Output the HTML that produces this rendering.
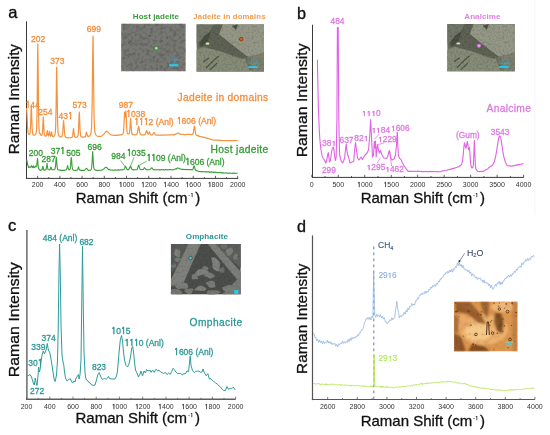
<!DOCTYPE html>
<html><head><meta charset="utf-8"><title>Raman spectra</title>
<style>
html,body{margin:0;padding:0;background:#fff;}
svg{display:block;}
svg text{font-family:"Liberation Sans", Arial, sans-serif;}
</style></head>
<body>
<svg width="550" height="435" viewBox="0 0 550 435">
<rect width="550" height="435" fill="#fff"/>
<line x1="534.8" y1="0" x2="534.8" y2="215" stroke="#f3f3f3" stroke-width="0.8"/>
<defs>
<filter id="tex1" x="0" y="0" width="100%" height="100%"><feTurbulence type="fractalNoise" baseFrequency="0.3" numOctaves="3" seed="3"/><feColorMatrix type="matrix" values="0 0 0 0 0  0 0 0 0 0  0 0 0 0 0  0 0 0 -2.6 1.45"/><feGaussianBlur stdDeviation="0.5"/></filter>
<filter id="tex2" x="0" y="0" width="100%" height="100%"><feTurbulence type="fractalNoise" baseFrequency="0.5" numOctaves="2" seed="11"/><feColorMatrix type="matrix" values="0 0 0 0 0  0 0 0 0 0  0 0 0 0 0  0 0 0 -2.2 1.25"/></filter>
<filter id="tex3" x="0" y="0" width="100%" height="100%"><feTurbulence type="fractalNoise" baseFrequency="0.18" numOctaves="3" seed="5"/><feColorMatrix type="matrix" values="0 0 0 0 0.4  0 0 0 0 0.22  0 0 0 0 0.08  0 0 0 -2.6 1.35"/></filter>
<filter id="bl"><feGaussianBlur stdDeviation="0.6"/></filter><filter id="bl2"><feGaussianBlur stdDeviation="1.3"/></filter>
<clipPath id="c1"><rect x="121.1" y="23.5" width="64.7" height="48"/></clipPath>
<clipPath id="c2"><rect x="196.4" y="24.3" width="67.7" height="47.5"/></clipPath>
<clipPath id="c4"><rect x="170.8" y="244" width="70" height="50.6"/></clipPath>
<clipPath id="c5"><rect x="453.9" y="301.5" width="63.7" height="50"/></clipPath>
</defs>
<!-- micrograph 1: host jadeite -->
<g clip-path="url(#c1)">
<rect x="121.1" y="23.5" width="64.7" height="48" fill="#777773"/>
<rect x="121.1" y="23.5" width="64.7" height="48" filter="url(#tex1)" opacity="0.2"/>
<g stroke="#5e5e5c" stroke-width="0.9" opacity="0.55" fill="none">
<path d="M125,36 L140,30 M130,45 L146,38 M150,60 L170,45 M162,57 L176,42 M140,64 L150,58 M172,30 L182,38 M126,58 L136,52 M165,33 L173,40"/>
</g>
<g fill="#4a4a48" opacity="0.7">
<circle cx="129" cy="43" r="0.9"/><circle cx="149.5" cy="36" r="1"/><circle cx="176" cy="56" r="0.8"/><circle cx="136" cy="62" r="0.8"/><circle cx="167" cy="38" r="0.7"/><circle cx="143" cy="50" r="0.7"/><circle cx="157" cy="69" r="0.9"/><circle cx="183" cy="27" r="0.8"/>
</g>
<circle cx="156.3" cy="48.2" r="2.0" fill="#98b894" stroke="#2e8c2e" stroke-width="0.8"/><path d="M155.3,48.2 H157.3 M156.3,47.2 V49.2" stroke="#e0f0e0" stroke-width="0.5"/>
<rect x="169.2" y="64.2" width="8.9" height="2.1" fill="#1ed0f0"/>
<text x="173.7" y="61.4" font-size="3.6" fill="#30b8e8" text-anchor="middle">20 μm</text>
</g>
<!-- micrograph 2: jadeite in domains -->
<g clip-path="url(#c2)">

<rect x="196.4" y="24.3" width="67.7" height="47.5" fill="#6d7261"/>
<g filter="url(#bl)">
<path d="M196.4,24.3 L213.6,24.3 L208,36 L200,41 L196.4,44 Z" fill="#72776a"/>
<path d="M196.4,50 L205,47 L215,50 L225,53 L236,57.5 L245,59 L250,71.8 L196.4,71.8 Z" fill="#878c78"/>
<path d="M219.5,24.3 L264.1,24.3 L264.1,53 L256,55 L247.7,56.7 L240,51 L233,45.5 L225,39 L219,34.4 Z" fill="#959886"/>
<path d="M213.6,24.3 L222.8,24.3 L219,34.4 L233,45.5 L247.7,56.7 L243,58.5 L232,55 L222,51.5 L212,48.5 L203,47 L198,46.5 L200,41 L208,36 Z" fill="#5e6354"/>
<path d="M199,44 L204,36 L211,31 L208,41 L202,46.5 Z M232,26 L238,24.3 L236,30 Z" fill="#4a4f43"/><path d="M206,68 L214,60 L219,56 M210,70 L217,63 M203,62 L209,58" stroke="#50554a" stroke-width="1.2" fill="none"/>
<path d="M250,57 L264.1,53 L264.1,71.8 L252,71.8 Z" fill="#7c8170"/>
</g>
<rect x="196.4" y="24.3" width="67.7" height="47.5" filter="url(#tex2)" opacity="0.18"/>
<ellipse cx="207.5" cy="43.7" rx="2" ry="1.1" fill="#e4e0a0"/>
<rect x="248.3" y="66.2" width="9.4" height="1.8" fill="#1ed0f0"/>
<text x="253" y="64.3" font-size="3.4" fill="#30b8e8" text-anchor="middle">10 μm</text>

<circle cx="241.2" cy="39.1" r="1.8" fill="#e85a18" stroke="#5a2a10" stroke-width="0.6"/>
</g>
<!-- micrograph 3: analcime (same field) -->
<g clip-path="url(#c2)" transform="translate(250.8,-0.2)">

<rect x="196.4" y="24.3" width="67.7" height="47.5" fill="#6d7261"/>
<g filter="url(#bl)">
<path d="M196.4,24.3 L213.6,24.3 L208,36 L200,41 L196.4,44 Z" fill="#72776a"/>
<path d="M196.4,50 L205,47 L215,50 L225,53 L236,57.5 L245,59 L250,71.8 L196.4,71.8 Z" fill="#878c78"/>
<path d="M219.5,24.3 L264.1,24.3 L264.1,53 L256,55 L247.7,56.7 L240,51 L233,45.5 L225,39 L219,34.4 Z" fill="#959886"/>
<path d="M213.6,24.3 L222.8,24.3 L219,34.4 L233,45.5 L247.7,56.7 L243,58.5 L232,55 L222,51.5 L212,48.5 L203,47 L198,46.5 L200,41 L208,36 Z" fill="#5e6354"/>
<path d="M199,44 L204,36 L211,31 L208,41 L202,46.5 Z M232,26 L238,24.3 L236,30 Z" fill="#4a4f43"/><path d="M206,68 L214,60 L219,56 M210,70 L217,63 M203,62 L209,58" stroke="#50554a" stroke-width="1.2" fill="none"/>
<path d="M250,57 L264.1,53 L264.1,71.8 L252,71.8 Z" fill="#7c8170"/>
</g>
<rect x="196.4" y="24.3" width="67.7" height="47.5" filter="url(#tex2)" opacity="0.18"/>
<ellipse cx="207.5" cy="43.7" rx="2" ry="1.1" fill="#e4e0a0"/>
<rect x="248.3" y="66.2" width="9.4" height="1.8" fill="#1ed0f0"/>
<text x="253" y="64.3" font-size="3.4" fill="#30b8e8" text-anchor="middle">10 μm</text>

<circle cx="228.2" cy="46.0" r="1.8" fill="#ff8cff" stroke="#c860c8" stroke-width="0.5"/>
</g>
<!-- micrograph 4: omphacite -->
<g clip-path="url(#c4)">
<rect x="170.8" y="244" width="70" height="50.6" fill="#4c4e4c"/>
<g filter="url(#bl)">
<path d="M216,244 L240.8,244 L240.8,268 L228,258 Z" fill="#5d605c"/>
<path d="M170.8,244 L188.5,244 L176,270 L170.8,272 Z" fill="#595b58"/>
<path d="M188.5,244 L200.7,244 L183,284 L170.8,286 L170.8,280 Z" fill="#80827d"/>
<path d="M207.6,244 L215.7,244 L240.8,272 L240.8,284 Z" fill="#7d7f7a"/>
<path d="M222,294.6 L240.8,276 L240.8,294.6 Z" fill="#787a75"/>
<path d="M179.9,253.4 C179.8,254.5 180.1,256.2 179.6,256.7 C179.1,257.2 177.6,256.6 176.9,256.4 C176.1,256.3 175.6,256.1 175.1,255.7 C174.6,255.2 174.0,254.4 173.9,253.7 C173.8,253.0 174.2,252.0 174.5,251.2 C174.8,250.4 175.3,248.9 175.9,248.7 C176.5,248.4 177.3,249.4 178.0,249.7 C178.8,250.0 180.3,249.6 180.6,250.3 C180.9,250.9 180.1,252.3 179.9,253.4Z" fill="#7e807b"/>
<path d="M180.8,259.8 C180.6,260.3 179.6,260.5 179.1,260.9 C178.6,261.3 178.5,262.0 178.0,262.1 C177.5,262.2 176.8,261.7 176.4,261.4 C175.9,261.1 175.4,260.9 175.2,260.5 C175.0,260.1 174.8,259.5 175.0,259.0 C175.1,258.6 175.6,258.1 176.1,257.9 C176.6,257.6 177.3,257.5 178.0,257.6 C178.6,257.6 179.6,257.6 180.1,258.0 C180.6,258.4 181.0,259.3 180.8,259.8Z" fill="#797b76"/>
<path d="M176.2,266.0 C176.1,266.4 175.9,266.7 175.6,267.1 C175.3,267.4 175.0,268.0 174.5,268.1 C173.9,268.3 173.0,268.3 172.5,268.1 C171.9,267.9 171.4,267.3 171.2,266.8 C170.9,266.3 170.9,265.5 171.2,265.2 C171.5,264.8 172.5,264.9 173.0,264.6 C173.6,264.4 174.0,263.6 174.5,263.6 C175.0,263.6 175.8,264.2 176.1,264.6 C176.3,265.0 176.3,265.6 176.2,266.0Z" fill="#70726d"/>
<path d="M233.1,250.8 C233.2,251.8 232.6,253.0 232.2,253.6 C231.7,254.3 231.1,254.5 230.5,254.9 C229.8,255.3 229.0,256.1 228.3,255.9 C227.6,255.7 226.9,254.5 226.5,253.6 C226.0,252.7 225.6,251.3 225.7,250.5 C225.9,249.7 226.9,249.1 227.5,248.7 C228.1,248.3 228.6,248.2 229.3,248.1 C229.9,248.0 231.0,247.6 231.6,248.0 C232.2,248.5 233.0,249.9 233.1,250.8Z" fill="#7b7d78"/>
<path d="M237.5,257.0 C237.5,257.8 238.2,259.1 237.9,259.5 C237.7,259.9 236.5,259.5 235.9,259.6 C235.2,259.6 234.6,260.2 234.1,259.9 C233.7,259.7 233.3,258.7 233.2,258.1 C233.0,257.4 233.1,256.6 233.3,256.0 C233.5,255.4 234.0,255.1 234.4,254.7 C234.9,254.3 235.4,253.4 236.0,253.4 C236.6,253.4 237.7,253.9 237.9,254.5 C238.1,255.1 237.5,256.2 237.5,257.0Z" fill="#757772"/>
<path d="M227.3,246.5 C227.3,247.0 226.9,247.6 226.4,248.0 C226.0,248.4 225.2,248.8 224.6,248.9 C223.9,249.0 223.1,248.7 222.5,248.4 C221.9,248.2 221.4,247.7 221.1,247.3 C220.8,246.8 220.3,246.0 220.6,245.6 C220.9,245.2 222.0,245.0 222.7,244.8 C223.3,244.6 223.8,244.6 224.4,244.6 C225.1,244.6 226.3,244.5 226.8,244.8 C227.3,245.1 227.4,246.0 227.3,246.5Z" fill="#6e706b"/>
<path d="M219.8,262.5 C220.3,263.8 219.9,265.7 219.7,267.1 C219.6,268.5 219.6,270.4 219.0,271.0 C218.4,271.6 217.1,271.4 216.1,270.9 C215.0,270.4 213.4,269.4 212.8,268.1 C212.2,266.8 212.8,264.9 212.6,263.2 C212.3,261.5 211.0,259.1 211.3,258.1 C211.5,257.2 213.1,257.3 214.0,257.5 C214.9,257.7 215.8,258.2 216.8,259.1 C217.7,259.9 219.3,261.2 219.8,262.5Z" fill="#80827d"/>
<path d="M224.7,270.0 C224.7,270.7 224.4,271.6 224.0,272.0 C223.6,272.5 222.9,272.8 222.4,272.9 C221.9,272.9 221.4,272.6 220.9,272.3 C220.3,272.1 219.4,271.8 219.2,271.2 C218.9,270.7 219.0,269.4 219.3,268.8 C219.6,268.3 220.5,268.2 221.0,267.9 C221.5,267.6 221.9,267.2 222.4,267.2 C222.9,267.2 223.8,267.3 224.2,267.8 C224.6,268.3 224.8,269.3 224.7,270.0Z" fill="#6c6e69"/>
<path d="M208.3,271.0 C208.8,271.7 208.2,273.2 207.2,273.9 C206.2,274.5 203.9,274.4 202.3,274.8 C200.8,275.1 199.1,276.1 197.8,276.0 C196.6,275.9 195.1,274.9 194.8,274.2 C194.6,273.4 195.8,272.4 196.3,271.7 C196.9,271.0 197.2,270.3 198.0,269.9 C198.9,269.4 200.4,269.1 201.5,269.1 C202.6,269.1 203.3,269.5 204.5,269.8 C205.6,270.1 207.9,270.3 208.3,271.0Z" fill="#80827d"/>
<path d="M214.7,276.4 C214.5,277.0 213.3,277.4 212.5,277.7 C211.7,278.1 210.7,278.8 209.9,278.7 C209.0,278.6 208.3,277.6 207.3,277.1 C206.3,276.6 204.4,276.3 204.0,275.7 C203.6,275.1 204.3,274.2 204.8,273.6 C205.4,273.0 206.3,272.3 207.3,272.2 C208.3,272.1 209.9,272.3 210.9,272.7 C211.9,273.0 212.7,273.7 213.4,274.3 C214.0,274.9 214.8,275.8 214.7,276.4Z" fill="#7b7d78"/>
<path d="M197.5,277.0 C197.7,277.6 198.3,278.7 197.9,279.0 C197.4,279.4 195.9,279.1 195.0,279.1 C194.1,279.1 193.2,279.5 192.7,279.3 C192.1,279.0 191.9,278.2 191.8,277.7 C191.6,277.2 191.7,276.8 191.8,276.3 C191.9,275.8 191.9,274.9 192.5,274.5 C193.1,274.1 194.5,273.8 195.2,273.9 C196.0,274.1 196.8,274.9 197.2,275.4 C197.6,275.9 197.4,276.4 197.5,277.0Z" fill="#797b76"/>
<path d="M208.4,268.0 C208.6,268.5 208.2,269.4 207.7,269.7 C207.2,270.1 206.3,270.2 205.5,270.3 C204.8,270.4 203.8,270.5 203.3,270.3 C202.8,270.0 202.6,269.2 202.5,268.7 C202.4,268.2 202.5,267.7 202.7,267.4 C202.9,267.0 203.3,266.5 203.7,266.3 C204.2,266.1 204.9,266.2 205.4,266.3 C205.9,266.4 206.3,266.6 206.8,266.8 C207.3,267.1 208.3,267.5 208.4,268.0Z" fill="#777974"/>
<path d="M188.1,286.3 C188.1,287.2 187.7,288.6 186.7,288.9 C185.7,289.3 183.6,288.5 182.1,288.5 C180.7,288.5 179.2,289.2 178.1,288.9 C176.9,288.5 175.7,287.4 175.3,286.6 C174.9,285.7 175.2,284.5 175.8,283.8 C176.4,283.1 177.8,282.6 179.0,282.3 C180.2,282.1 181.6,282.1 182.9,282.3 C184.2,282.5 185.8,282.9 186.7,283.6 C187.5,284.3 188.1,285.4 188.1,286.3Z" fill="#7d7f7a"/>
<path d="M205.7,288.0 C206.1,288.6 206.6,289.8 205.9,290.3 C205.2,290.9 203.0,291.0 201.8,291.1 C200.6,291.1 199.9,290.9 198.7,290.8 C197.4,290.7 194.6,290.8 194.2,290.3 C193.8,289.9 195.7,288.6 196.3,287.9 C196.9,287.2 197.2,286.5 198.0,286.2 C198.9,285.9 200.3,285.8 201.3,285.8 C202.2,285.9 203.2,286.2 203.9,286.5 C204.6,286.9 205.4,287.3 205.7,288.0Z" fill="#7d7f7a"/>
<path d="M214.9,284.3 C215.0,285.0 215.9,286.2 215.5,286.7 C215.0,287.3 213.0,287.6 211.9,287.7 C210.8,287.7 209.4,287.3 208.7,286.9 C208.0,286.4 208.1,285.7 207.6,285.1 C207.1,284.5 205.6,283.6 205.7,283.1 C205.9,282.5 207.6,282.0 208.6,281.6 C209.7,281.2 211.0,280.6 212.0,280.7 C213.0,280.8 214.2,281.7 214.7,282.3 C215.2,282.9 214.8,283.6 214.9,284.3Z" fill="#7a7c77"/>
<path d="M192.9,291.0 C192.7,291.6 192.5,292.0 192.0,292.5 C191.5,293.1 190.9,294.3 190.0,294.4 C189.1,294.5 187.7,293.7 186.8,293.2 C186.0,292.8 185.5,292.4 185.1,291.8 C184.7,291.3 184.2,290.5 184.5,290.0 C184.8,289.5 185.9,289.0 186.8,288.7 C187.7,288.4 188.7,288.4 189.8,288.4 C190.9,288.4 192.9,288.4 193.4,288.8 C193.9,289.2 193.2,290.4 192.9,291.0Z" fill="#767873"/>
<path d="M181.9,292.0 C182.1,292.7 182.6,294.0 181.7,294.4 C180.9,294.8 178.2,294.4 176.8,294.4 C175.4,294.3 174.6,294.5 173.3,294.3 C172.1,294.1 169.7,293.8 169.3,293.2 C168.8,292.7 170.0,291.7 170.5,291.0 C171.1,290.3 171.5,289.4 172.6,289.1 C173.7,288.7 175.7,289.0 177.0,289.1 C178.3,289.3 179.6,289.7 180.4,290.2 C181.2,290.6 181.7,291.3 181.9,292.0Z" fill="#747671"/>
<path d="M220.4,292.5 C220.2,293.1 218.0,293.7 216.9,294.1 C215.7,294.6 214.7,295.2 213.2,295.3 C211.8,295.5 209.4,295.4 208.4,295.0 C207.3,294.7 207.2,293.8 206.9,293.2 C206.6,292.7 206.4,292.2 206.7,291.7 C207.1,291.3 207.9,290.6 209.0,290.4 C210.0,290.2 211.4,290.4 212.9,290.4 C214.4,290.5 216.6,290.2 217.9,290.5 C219.1,290.9 220.5,291.9 220.4,292.5Z" fill="#767873"/>
<path d="M233.4,289.0 C233.3,289.9 232.4,290.7 231.7,291.4 C230.9,292.0 229.8,292.7 228.9,292.8 C227.9,292.8 226.9,292.1 226.0,291.7 C225.1,291.3 224.0,291.0 223.4,290.3 C222.7,289.6 221.8,288.1 222.3,287.4 C222.7,286.7 224.9,286.8 226.0,286.3 C227.1,285.9 227.9,284.8 229.0,284.8 C230.0,284.7 231.6,285.5 232.4,286.2 C233.1,286.9 233.5,288.1 233.4,289.0Z" fill="#7a7c77"/>
</g>
<rect x="170.8" y="244" width="70" height="50.6" filter="url(#tex2)" opacity="0.15"/>
<circle cx="190.5" cy="258.1" r="1.8" fill="#60c0c4" stroke="#1c4848" stroke-width="0.7"/>
<rect x="234.2" y="290" width="4.1" height="3.8" fill="#1ed0e8"/>
</g>
<!-- micrograph 5: fluid inclusion (d) -->
<g clip-path="url(#c5)">
<rect x="453.9" y="301.5" width="63.7" height="50" fill="#dc9650"/>
<g filter="url(#bl2)">
<ellipse cx="484" cy="330" rx="24" ry="15" fill="#eeb06c"/>
<ellipse cx="478" cy="332" rx="13" ry="9" fill="#f6c888"/>
<ellipse cx="503" cy="307" rx="12" ry="5" fill="#f0b878"/>
<ellipse cx="462" cy="322" rx="6" ry="8" fill="#e8a868"/>
<path d="M455,302 L470,302 L482,316 L486,324 L478,323 L468,314 L456,312 Z" fill="#8a5024" opacity="0.85"/>
<path d="M480,301.5 L489,301.5 L488,318 L484,314 Z" fill="#8a5226" opacity="0.8"/>
<path d="M495,313 L501,313 L504,324 L502,334 L497,331 L494,322 Z" fill="#6a3c18" opacity="0.85"/>
<path d="M453.9,333 L461,337 L466,351.5 L453.9,351.5 Z" fill="#7a4620" opacity="0.85"/>
<path d="M468,351.5 L472,344 L484,346 L490,351.5 Z" fill="#6e3e1a" opacity="0.85"/>
<path d="M453.9,314 L459,318 L458,332 L453.9,333 Z" fill="#a06434" opacity="0.85"/>
<path d="M512,301.5 L517.5,301.5 L517.5,351.5 L513,351.5 Z" fill="#c07a40" opacity="0.8"/>
</g>
<rect x="453.9" y="301.5" width="63.7" height="50" filter="url(#tex3)" opacity="0.35"/>
<circle cx="503.0" cy="331.6" r="0.74" fill="#4a2810" opacity="0.49"/>
<circle cx="493.8" cy="349.6" r="0.58" fill="#4a2810" opacity="0.50"/>
<circle cx="513.9" cy="334.9" r="0.46" fill="#4a2810" opacity="0.75"/>
<circle cx="516.1" cy="312.6" r="0.82" fill="#4a2810" opacity="0.76"/>
<circle cx="468.6" cy="311.4" r="0.87" fill="#4a2810" opacity="0.60"/>
<circle cx="482.1" cy="334.0" r="0.59" fill="#4a2810" opacity="0.45"/>
<circle cx="471.0" cy="325.2" r="0.77" fill="#4a2810" opacity="0.72"/>
<circle cx="481.5" cy="311.7" r="0.78" fill="#4a2810" opacity="0.53"/>
<circle cx="499.5" cy="326.4" r="0.65" fill="#4a2810" opacity="0.62"/>
<circle cx="467.5" cy="310.6" r="0.70" fill="#4a2810" opacity="0.57"/>
<circle cx="455.9" cy="311.7" r="0.86" fill="#4a2810" opacity="0.77"/>
<circle cx="490.7" cy="321.8" r="0.80" fill="#4a2810" opacity="0.57"/>
<circle cx="493.9" cy="303.1" r="0.71" fill="#4a2810" opacity="0.89"/>
<circle cx="498.6" cy="306.2" r="0.68" fill="#4a2810" opacity="0.59"/>
<circle cx="511.6" cy="303.4" r="0.36" fill="#4a2810" opacity="0.49"/>
<circle cx="475.9" cy="344.9" r="0.66" fill="#4a2810" opacity="0.75"/>
<circle cx="457.7" cy="310.9" r="0.56" fill="#4a2810" opacity="0.73"/>
<circle cx="501.2" cy="330.1" r="0.50" fill="#4a2810" opacity="0.53"/>
<circle cx="480.9" cy="314.8" r="0.77" fill="#4a2810" opacity="0.85"/>
<circle cx="504.5" cy="308.3" r="0.78" fill="#4a2810" opacity="0.46"/>
<circle cx="463.3" cy="336.1" r="0.53" fill="#4a2810" opacity="0.82"/>
<circle cx="497.3" cy="333.2" r="0.68" fill="#4a2810" opacity="0.86"/>
<circle cx="506.2" cy="303.9" r="0.89" fill="#4a2810" opacity="0.64"/>
<circle cx="473.2" cy="344.2" r="0.86" fill="#4a2810" opacity="0.80"/>
<circle cx="499.3" cy="303.0" r="0.50" fill="#4a2810" opacity="0.82"/>
<circle cx="516.4" cy="316.0" r="0.77" fill="#4a2810" opacity="0.50"/>
<circle cx="501.0" cy="319.6" r="0.39" fill="#4a2810" opacity="0.53"/>
<circle cx="489.9" cy="325.2" r="0.73" fill="#4a2810" opacity="0.61"/>
<circle cx="491.7" cy="320.5" r="0.77" fill="#4a2810" opacity="0.45"/>
<circle cx="491.2" cy="330.7" r="0.38" fill="#4a2810" opacity="0.79"/>
<circle cx="494.0" cy="348.1" r="0.45" fill="#4a2810" opacity="0.64"/>
<circle cx="508.2" cy="347.8" r="0.73" fill="#4a2810" opacity="0.61"/>
<circle cx="500.7" cy="324.3" r="0.64" fill="#4a2810" opacity="0.75"/>
<circle cx="512.2" cy="302.9" r="0.73" fill="#4a2810" opacity="0.86"/>
<circle cx="478.0" cy="313.9" r="0.66" fill="#4a2810" opacity="0.46"/>
<circle cx="504.5" cy="325.9" r="0.71" fill="#4a2810" opacity="0.80"/>
<circle cx="456.2" cy="311.6" r="0.58" fill="#4a2810" opacity="0.72"/>
<circle cx="477.5" cy="315.9" r="0.36" fill="#4a2810" opacity="0.64"/>
<circle cx="512.8" cy="303.9" r="0.68" fill="#4a2810" opacity="0.54"/>
<circle cx="514.8" cy="341.2" r="0.47" fill="#4a2810" opacity="0.89"/>
<circle cx="474.1" cy="335.6" r="0.49" fill="#4a2810" opacity="0.58"/>
<circle cx="458.9" cy="316.6" r="0.58" fill="#4a2810" opacity="0.46"/>
<circle cx="455.7" cy="303.0" r="0.83" fill="#4a2810" opacity="0.64"/>
<circle cx="511.4" cy="325.5" r="0.66" fill="#4a2810" opacity="0.62"/>
<circle cx="503.0" cy="319.0" r="0.79" fill="#4a2810" opacity="0.63"/>
<g fill="none" stroke="#4a2a12" stroke-width="0.8">
<circle cx="476" cy="334.4" r="1.3"/><circle cx="492.5" cy="333.1" r="1.3"/><circle cx="507.6" cy="311.6" r="1.4"/><circle cx="510" cy="339.5" r="1.4"/><circle cx="499.4" cy="309.1" r="1.2"/>
</g>
<path d="M486.5,335 L487.2,322 L488.6,322 L489.3,335" fill="none" stroke="#3a200c" stroke-width="0.9"/>
<rect x="506.4" y="344.3" width="5.5" height="1.5" fill="#40d0e0"/>
<rect x="505.2" y="341.6" width="8" height="1.2" fill="#80d0c8" opacity="0.8"/>
</g>
<!-- captions -->
<text x="132.8" y="18.9" font-size="8.0" font-weight="bold" fill="#3a9a3a" textLength="46.2" lengthAdjust="spacing">Host jadeite</text>
<text x="193.3" y="19.2" font-size="7.7" font-weight="bold" fill="#f29a4c" textLength="72.2" lengthAdjust="spacing">Jadeite in domains</text>
<text x="464.3" y="19.3" font-size="8.0" font-weight="bold" fill="#e27ee6" textLength="36.1" lengthAdjust="spacing">Analcime</text>
<text x="185.8" y="239.2" font-size="8.1" font-weight="bold" fill="#2a9696" textLength="42.2" lengthAdjust="spacing">Omphacite</text>

<text x="8.2" y="17.6" font-size="16.5" fill="#111" stroke="#111" stroke-width="0.35">a</text>
<line x1="26.5" y1="21.3" x2="26.5" y2="178.9" stroke="#3a3a3a" stroke-width="1.0"/>
<line x1="26.0" y1="178.4" x2="238.2" y2="178.4" stroke="#3a3a3a" stroke-width="1.0"/>
<line x1="37.62" y1="178.4" x2="37.62" y2="175.8" stroke="#3a3a3a" stroke-width="0.8"/>
<line x1="59.85" y1="178.4" x2="59.85" y2="175.8" stroke="#3a3a3a" stroke-width="0.8"/>
<line x1="82.08" y1="178.4" x2="82.08" y2="175.8" stroke="#3a3a3a" stroke-width="0.8"/>
<line x1="104.31" y1="178.4" x2="104.31" y2="175.8" stroke="#3a3a3a" stroke-width="0.8"/>
<line x1="126.54" y1="178.4" x2="126.54" y2="175.8" stroke="#3a3a3a" stroke-width="0.8"/>
<line x1="148.78" y1="178.4" x2="148.78" y2="175.8" stroke="#3a3a3a" stroke-width="0.8"/>
<line x1="171.01" y1="178.4" x2="171.01" y2="175.8" stroke="#3a3a3a" stroke-width="0.8"/>
<line x1="193.24" y1="178.4" x2="193.24" y2="175.8" stroke="#3a3a3a" stroke-width="0.8"/>
<line x1="215.47" y1="178.4" x2="215.47" y2="175.8" stroke="#3a3a3a" stroke-width="0.8"/>
<line x1="237.70" y1="178.4" x2="237.70" y2="175.8" stroke="#3a3a3a" stroke-width="0.8"/>
<line x1="48.73" y1="178.4" x2="48.73" y2="177.0" stroke="#3a3a3a" stroke-width="0.8"/>
<line x1="70.96" y1="178.4" x2="70.96" y2="177.0" stroke="#3a3a3a" stroke-width="0.8"/>
<line x1="93.20" y1="178.4" x2="93.20" y2="177.0" stroke="#3a3a3a" stroke-width="0.8"/>
<line x1="115.43" y1="178.4" x2="115.43" y2="177.0" stroke="#3a3a3a" stroke-width="0.8"/>
<line x1="137.66" y1="178.4" x2="137.66" y2="177.0" stroke="#3a3a3a" stroke-width="0.8"/>
<line x1="159.89" y1="178.4" x2="159.89" y2="177.0" stroke="#3a3a3a" stroke-width="0.8"/>
<line x1="182.12" y1="178.4" x2="182.12" y2="177.0" stroke="#3a3a3a" stroke-width="0.8"/>
<line x1="204.36" y1="178.4" x2="204.36" y2="177.0" stroke="#3a3a3a" stroke-width="0.8"/>
<line x1="226.59" y1="178.4" x2="226.59" y2="177.0" stroke="#3a3a3a" stroke-width="0.8"/>
<text x="37.62" y="187.2" font-size="7" fill="#333" text-anchor="middle">200</text>
<text x="59.85" y="187.2" font-size="7" fill="#333" text-anchor="middle">400</text>
<text x="82.08" y="187.2" font-size="7" fill="#333" text-anchor="middle">600</text>
<text x="104.31" y="187.2" font-size="7" fill="#333" text-anchor="middle">800</text>
<text x="126.54" y="187.2" font-size="7" fill="#333" text-anchor="middle"><tspan font-family="NanumGothic, Liberation Sans, sans-serif" font-size="6.51" stroke="#333" stroke-width="0.3">1</tspan>000</text>
<text x="148.78" y="187.2" font-size="7" fill="#333" text-anchor="middle"><tspan font-family="NanumGothic, Liberation Sans, sans-serif" font-size="6.51" stroke="#333" stroke-width="0.3">1</tspan>200</text>
<text x="171.01" y="187.2" font-size="7" fill="#333" text-anchor="middle"><tspan font-family="NanumGothic, Liberation Sans, sans-serif" font-size="6.51" stroke="#333" stroke-width="0.3">1</tspan>400</text>
<text x="193.24" y="187.2" font-size="7" fill="#333" text-anchor="middle"><tspan font-family="NanumGothic, Liberation Sans, sans-serif" font-size="6.51" stroke="#333" stroke-width="0.3">1</tspan>600</text>
<text x="215.47" y="187.2" font-size="7" fill="#333" text-anchor="middle"><tspan font-family="NanumGothic, Liberation Sans, sans-serif" font-size="6.51" stroke="#333" stroke-width="0.3">1</tspan>800</text>
<text x="237.70" y="187.2" font-size="7" fill="#333" text-anchor="middle">2000</text>
<text transform="translate(18.5,154.2) rotate(-90)" x="0" y="0" font-size="14.6" fill="#111" stroke="#111" stroke-width="0.3" textLength="110.2" lengthAdjust="spacingAndGlyphs">Raman Intensity</text>
<text x="75.8" y="203.2" font-size="15.0" fill="#111" stroke="#111" stroke-width="0.3" textLength="111.6" lengthAdjust="spacingAndGlyphs">Raman Shift (cm</text>
<text x="188.2" y="196.7" font-size="6" fill="#222">-<tspan font-family="NanumGothic, Liberation Sans, sans-serif" font-size="5.58" stroke="#222" stroke-width="0.25">1</tspan></text>
<text x="195.2" y="203.2" font-size="15.0" fill="#111" stroke="#111" stroke-width="0.3">)</text>
<path d="M26.60,108.00 L26.60,108.16 L27.10,116.57 L27.60,127.95 L28.10,132.78 L28.60,134.15 L29.10,134.47 L29.60,134.14 L30.10,132.83 L30.60,125.32 L31.10,109.27 L31.30,106.00 L31.60,112.21 L32.10,127.87 L32.60,133.61 L33.10,134.77 L33.60,135.10 L34.10,135.25 L34.60,135.25 L35.10,134.92 L35.60,134.44 L36.10,133.12 L36.60,129.42 L37.10,109.52 L37.60,55.13 L37.80,44.00 L38.10,66.24 L38.60,116.25 L39.10,130.74 L39.60,133.29 L40.10,133.38 L40.20,133.50 L40.60,134.40 L41.10,135.39 L41.60,135.38 L42.10,134.83 L42.60,130.81 L43.10,119.37 L43.30,117.00 L43.60,121.77 L44.10,132.48 L44.60,135.30 L45.10,136.22 L45.60,136.25 L46.10,136.09 L46.60,134.98 L47.10,131.40 L47.30,130.60 L47.60,132.07 L48.10,135.32 L48.60,135.96 L49.10,133.71 L49.50,131.40 L49.60,131.74 L50.10,135.16 L50.60,136.23 L51.10,134.83 L51.60,131.98 L51.60,132.00 L52.10,134.72 L52.60,136.47 L53.10,136.63 L53.60,136.44 L54.10,136.08 L54.60,135.53 L55.10,133.93 L55.60,128.89 L56.10,106.13 L56.60,68.76 L56.70,67.00 L57.10,89.94 L57.60,122.88 L58.10,133.05 L58.60,135.04 L59.10,136.00 L59.60,136.59 L60.10,136.88 L60.60,136.73 L61.10,136.87 L61.60,136.78 L62.10,136.08 L62.60,133.64 L63.10,126.44 L63.60,120.50 L63.60,120.53 L64.10,126.54 L64.60,133.80 L65.10,136.40 L65.60,137.11 L66.10,137.29 L66.60,137.73 L67.10,137.76 L67.60,137.83 L68.10,137.91 L68.60,137.86 L69.10,137.77 L69.60,137.74 L70.10,137.72 L70.60,137.84 L71.10,137.54 L71.60,137.48 L72.10,137.19 L72.60,135.90 L73.10,131.58 L73.50,128.50 L73.60,128.64 L74.10,133.45 L74.60,136.53 L75.10,137.27 L75.60,137.35 L76.10,137.30 L76.60,137.16 L77.10,137.00 L77.60,136.53 L78.10,135.20 L78.60,128.59 L79.10,114.60 L79.30,112.00 L79.60,117.25 L80.10,130.68 L80.60,135.54 L81.10,136.75 L81.60,137.00 L82.10,137.16 L82.60,136.96 L83.10,137.12 L83.60,137.09 L84.10,137.14 L84.60,136.82 L85.10,136.86 L85.60,135.95 L86.10,133.38 L86.50,132.00 L86.60,132.02 L87.10,134.34 L87.60,136.02 L88.10,136.41 L88.60,136.45 L89.10,136.06 L89.60,135.78 L90.10,135.16 L90.60,134.35 L91.10,132.46 L91.60,127.10 L92.10,106.84 L92.60,61.37 L93.00,36.00 L93.10,37.89 L93.60,81.91 L94.10,117.84 L94.60,129.90 L95.10,133.13 L95.60,134.53 L96.10,135.17 L96.60,135.61 L97.10,136.01 L97.60,136.37 L98.10,136.28 L98.60,136.34 L99.10,136.34 L99.60,136.35 L100.10,136.48 L100.60,136.41 L101.10,136.21 L101.60,136.05 L102.10,135.78 L102.60,135.46 L103.10,134.92 L103.60,134.50 L104.10,133.96 L104.60,133.25 L105.10,132.61 L105.60,131.99 L106.10,131.58 L106.60,131.40 L106.60,131.47 L107.10,131.45 L107.60,131.79 L108.10,132.34 L108.60,132.86 L109.10,133.46 L109.60,133.62 L110.10,134.25 L110.60,134.48 L111.10,134.78 L111.60,135.02 L112.10,135.16 L112.60,135.24 L113.10,135.21 L113.60,135.36 L114.10,135.22 L114.60,135.23 L115.10,135.30 L115.60,135.18 L116.10,135.38 L116.60,135.27 L117.10,135.34 L117.60,135.14 L118.10,135.08 L118.60,135.08 L119.10,135.09 L119.60,134.93 L120.10,134.95 L120.60,134.87 L121.10,134.93 L121.60,134.63 L122.10,134.59 L122.60,134.16 L123.10,133.50 L123.60,131.13 L124.10,122.30 L124.60,112.00 L124.60,112.01 L125.10,117.25 L125.60,113.91 L125.90,111.00 L126.10,113.79 L126.60,126.66 L127.10,132.39 L127.60,133.68 L128.10,134.00 L128.60,133.96 L129.10,133.88 L129.60,132.05 L130.10,125.70 L130.60,118.30 L130.60,118.30 L131.10,125.81 L131.60,132.34 L132.10,134.02 L132.60,134.53 L133.10,134.64 L133.60,134.77 L134.10,134.84 L134.60,134.84 L135.10,134.83 L135.60,134.73 L136.10,134.69 L136.60,134.31 L137.10,133.79 L137.60,131.83 L138.10,128.65 L138.60,126.30 L138.60,126.40 L139.10,128.41 L139.60,131.95 L140.10,133.81 L140.60,134.43 L141.10,134.79 L141.60,134.81 L142.10,134.76 L142.60,134.91 L143.10,134.93 L143.60,134.94 L144.10,134.79 L144.60,134.83 L145.10,134.49 L145.60,133.38 L146.10,131.71 L146.60,130.59 L146.60,130.60 L147.10,131.68 L147.60,133.53 L148.10,134.25 L148.60,133.99 L149.10,132.74 L149.50,132.00 L149.60,132.07 L150.10,133.71 L150.60,134.54 L151.10,134.85 L151.60,134.93 L152.10,134.82 L152.60,134.71 L153.10,133.75 L153.60,132.83 L153.90,132.50 L154.10,132.65 L154.60,133.67 L155.10,134.38 L155.60,135.01 L156.10,134.99 L156.60,135.05 L157.10,135.00 L157.60,135.04 L158.10,135.15 L158.60,135.20 L159.10,135.18 L159.60,135.23 L160.10,135.19 L160.60,135.12 L161.10,135.18 L161.60,135.15 L162.10,135.09 L162.60,135.14 L163.10,135.18 L163.60,135.08 L164.10,135.02 L164.60,135.10 L165.10,135.18 L165.60,135.00 L166.10,135.00 L166.60,134.98 L167.10,135.08 L167.60,134.82 L168.10,134.98 L168.60,135.04 L169.10,134.86 L169.60,135.03 L170.10,134.94 L170.60,134.83 L171.10,134.88 L171.60,134.72 L172.10,134.77 L172.60,134.94 L173.10,134.69 L173.60,134.86 L174.10,134.63 L174.60,134.62 L175.10,134.40 L175.60,134.03 L176.10,133.93 L176.60,133.72 L177.10,133.36 L177.60,133.15 L178.00,133.20 L178.10,133.23 L178.60,133.24 L179.10,133.36 L179.60,133.69 L180.10,134.04 L180.60,134.13 L181.10,134.39 L181.60,134.54 L182.10,134.48 L182.60,134.42 L183.10,134.42 L183.60,134.53 L184.10,134.61 L184.60,134.55 L185.10,134.57 L185.60,134.48 L186.10,134.53 L186.60,134.46 L187.10,134.46 L187.60,134.37 L188.10,134.33 L188.60,134.40 L189.10,134.33 L189.60,134.32 L190.10,134.43 L190.60,134.43 L191.10,134.71 L191.60,134.57 L192.10,134.42 L192.60,134.38 L193.10,133.63 L193.60,131.18 L194.10,127.29 L194.40,126.00 L194.60,126.56 L195.10,130.48 L195.60,133.76 L196.10,134.77 L196.60,135.36 L197.10,135.43 L197.60,135.57 L198.10,135.95 L198.60,135.89 L199.10,136.13 L199.60,136.37 L200.10,136.39 L200.60,136.50 L201.10,136.64 L201.60,136.82 L202.10,136.81 L202.60,137.05 L203.10,137.16 L203.60,137.42 L204.10,137.33 L204.60,137.40 L205.10,137.66 L205.60,137.72 L206.10,137.93 L206.60,138.07 L207.10,138.30 L207.60,138.31 L208.10,138.50 L208.60,138.46 L209.10,138.74 L209.60,139.08 L210.10,139.06 L210.60,139.21 L211.10,139.32 L211.60,139.61 L212.10,139.73 L212.60,139.77 L213.10,140.04 L213.60,140.04 L214.10,140.10 L214.60,140.02 L215.10,140.23 L215.60,140.15 L216.10,140.13 L216.60,140.13 L217.10,140.17 L217.60,140.29 L218.10,140.22 L218.60,140.36 L219.10,140.34 L219.60,140.43 L220.10,140.41 L220.60,140.36 L221.10,140.24 L221.60,140.44 L222.10,140.51 L222.60,140.48 L223.10,140.54 L223.60,140.48 L224.10,140.52 L224.60,140.50 L225.10,140.70 L225.60,140.60 L226.10,140.54 L226.60,140.47 L227.10,140.56 L227.60,140.69 L228.10,140.60 L228.60,140.51 L229.10,140.67 L229.60,140.67 L230.10,140.63 L230.60,140.61 L231.10,140.64 L231.60,140.58 L232.10,140.60 L232.60,140.47 L233.10,140.65 L233.60,140.54 L234.10,140.68 L234.60,140.35 L235.10,140.57 L235.60,140.59 L236.10,140.48 L236.60,140.54 L237.10,140.56 L237.60,140.54" fill="none" stroke="#F5923E" stroke-width="1.2" stroke-linejoin="round" />
<path d="M26.60,159.50 L26.60,159.60 L27.10,161.47 L27.60,164.55 L28.10,165.98 L28.60,167.51 L29.10,166.74 L29.60,166.92 L30.10,167.77 L30.60,166.91 L31.00,166.52 L31.10,165.74 L31.60,165.78 L32.10,167.41 L32.60,166.45 L33.10,167.66 L33.50,166.99 L33.60,165.91 L34.10,167.42 L34.60,167.18 L35.10,167.12 L35.60,165.95 L36.10,166.71 L36.60,166.12 L37.10,162.08 L37.50,158.20 L37.60,158.74 L38.10,165.52 L38.60,168.70 L39.10,169.04 L39.60,169.88 L40.10,170.14 L40.60,170.39 L41.10,169.92 L41.60,170.09 L42.10,169.67 L42.60,167.16 L42.90,166.20 L43.10,166.93 L43.60,169.34 L44.10,170.14 L44.60,170.21 L45.10,169.89 L45.60,169.80 L46.10,169.32 L46.60,166.39 L47.00,163.30 L47.10,163.70 L47.60,167.83 L48.10,169.54 L48.60,169.75 L49.10,169.83 L49.60,169.83 L50.10,169.48 L50.60,168.10 L50.90,166.90 L51.10,167.27 L51.60,169.21 L52.10,169.83 L52.60,169.68 L53.10,169.74 L53.60,169.74 L54.10,169.74 L54.60,169.20 L55.10,168.90 L55.60,165.44 L56.10,158.50 L56.30,157.20 L56.60,159.99 L57.10,166.72 L57.60,169.28 L58.10,169.71 L58.60,169.90 L59.10,170.08 L59.60,169.98 L60.10,170.38 L60.60,170.14 L61.10,170.12 L61.60,170.66 L62.10,170.37 L62.60,170.21 L63.10,170.66 L63.60,170.33 L64.10,170.53 L64.60,170.22 L65.10,170.27 L65.60,170.00 L66.10,169.84 L66.60,169.46 L67.10,167.66 L67.60,165.50 L67.60,165.62 L68.10,167.97 L68.60,169.30 L69.10,170.00 L69.60,169.66 L70.10,169.07 L70.60,165.64 L71.10,158.57 L71.30,157.50 L71.60,160.05 L72.10,166.74 L72.60,169.40 L73.10,169.83 L73.60,170.31 L74.10,170.24 L74.60,170.29 L75.10,170.47 L75.60,170.39 L76.10,170.30 L76.60,170.26 L77.10,170.15 L77.60,169.84 L78.10,168.16 L78.50,166.90 L78.60,167.05 L79.10,168.97 L79.60,169.90 L80.10,170.32 L80.60,170.10 L81.10,170.55 L81.60,170.37 L82.10,170.39 L82.60,170.45 L83.10,170.34 L83.60,170.28 L84.10,170.44 L84.60,170.15 L85.10,169.69 L85.60,169.35 L86.10,168.39 L86.50,168.40 L86.60,168.66 L87.10,168.84 L87.60,169.49 L88.10,170.24 L88.60,170.42 L89.10,170.16 L89.60,170.21 L90.10,170.20 L90.60,170.12 L91.10,169.48 L91.60,168.10 L92.10,162.20 L92.60,152.15 L92.70,151.60 L93.10,157.82 L93.60,166.60 L94.10,169.01 L94.60,169.65 L95.10,169.61 L95.60,170.09 L96.10,170.41 L96.60,170.09 L97.10,170.47 L97.60,170.45 L98.10,170.30 L98.60,170.31 L99.10,170.33 L99.60,170.18 L100.10,170.24 L100.60,170.24 L101.10,170.28 L101.60,170.22 L102.10,169.86 L102.60,169.90 L103.10,169.38 L103.60,169.10 L104.10,168.72 L104.60,168.15 L105.10,167.66 L105.60,167.40 L105.90,167.30 L106.10,167.24 L106.60,167.47 L107.10,167.97 L107.60,168.63 L108.10,168.92 L108.60,169.59 L109.10,169.62 L109.60,169.33 L110.10,169.83 L110.60,170.22 L111.10,170.01 L111.60,169.97 L112.10,169.91 L112.60,170.25 L113.10,170.20 L113.60,170.15 L114.10,170.11 L114.60,170.26 L115.10,170.16 L115.60,169.84 L116.10,170.13 L116.60,170.03 L117.10,169.98 L117.60,170.10 L118.10,169.98 L118.60,169.52 L119.10,170.18 L119.60,170.09 L120.10,169.90 L120.60,169.85 L121.10,169.93 L121.60,169.68 L122.10,169.90 L122.60,169.79 L123.10,169.71 L123.60,169.50 L124.10,169.18 L124.60,168.54 L125.10,167.15 L125.50,166.30 L125.60,166.42 L126.10,167.50 L126.60,168.64 L127.10,169.50 L127.60,169.83 L128.10,169.37 L128.60,169.71 L129.10,168.88 L129.60,168.28 L130.10,166.99 L130.50,166.30 L130.60,166.14 L131.10,167.28 L131.60,168.81 L132.10,169.55 L132.60,169.56 L133.10,169.91 L133.60,169.62 L134.10,170.01 L134.60,169.76 L135.10,169.77 L135.60,169.80 L136.10,169.70 L136.60,169.81 L137.10,169.51 L137.60,168.28 L138.10,166.44 L138.60,165.12 L138.60,165.30 L139.10,166.35 L139.60,168.19 L140.10,169.14 L140.60,169.49 L141.10,169.61 L141.60,169.72 L142.10,169.44 L142.60,169.44 L143.10,169.57 L143.60,169.01 L144.10,167.99 L144.50,167.70 L144.60,167.92 L145.10,168.31 L145.60,169.11 L146.10,169.25 L146.60,169.78 L147.10,169.69 L147.60,169.86 L148.10,169.81 L148.60,169.70 L149.10,169.67 L149.60,169.74 L150.10,169.30 L150.60,168.84 L151.10,168.21 L151.60,167.84 L151.70,167.70 L152.10,168.09 L152.60,168.90 L153.10,169.16 L153.60,169.68 L154.10,169.53 L154.60,169.77 L155.10,169.72 L155.60,169.98 L156.10,169.82 L156.60,169.67 L157.10,169.83 L157.60,169.80 L158.10,169.70 L158.60,169.70 L159.10,169.60 L159.60,170.16 L160.10,169.76 L160.60,169.89 L161.10,169.57 L161.60,169.58 L162.10,169.71 L162.60,169.71 L163.10,169.85 L163.60,169.58 L164.10,169.81 L164.60,169.95 L165.10,169.58 L165.60,169.85 L166.10,169.57 L166.60,169.76 L167.10,169.76 L167.60,169.96 L168.10,169.59 L168.60,169.71 L169.10,169.84 L169.60,169.50 L170.10,169.66 L170.60,169.53 L171.10,169.54 L171.60,169.74 L172.10,169.73 L172.60,169.99 L173.10,169.78 L173.60,169.73 L174.10,169.44 L174.60,169.33 L175.10,169.25 L175.60,168.70 L176.10,169.05 L176.60,168.42 L177.10,168.10 L177.60,167.99 L178.00,168.00 L178.10,168.14 L178.60,168.31 L179.10,168.29 L179.60,168.68 L180.10,168.86 L180.60,168.94 L181.10,169.28 L181.60,169.37 L182.10,169.21 L182.60,169.66 L183.10,169.29 L183.60,169.57 L184.10,169.39 L184.60,169.43 L185.10,169.45 L185.60,169.67 L186.10,169.38 L186.60,169.53 L187.10,169.79 L187.60,169.45 L188.10,169.55 L188.60,169.65 L189.10,169.45 L189.60,169.60 L190.10,169.44 L190.60,169.72 L191.10,169.69 L191.60,169.60 L192.10,169.96 L192.60,169.59 L193.10,168.85 L193.60,167.01 L194.10,165.73 L194.10,165.80 L194.60,167.33 L195.10,169.30 L195.60,170.35 L196.10,170.32 L196.60,170.64 L197.10,171.01 L197.60,170.98 L198.10,171.13 L198.60,171.42 L199.10,171.33 L199.60,171.45 L200.10,171.47 L200.60,171.77 L201.10,171.70 L201.60,171.47 L202.10,171.69 L202.60,171.47 L203.10,171.84 L203.60,171.81 L204.10,171.71 L204.60,171.71 L205.10,171.53 L205.60,171.95 L206.10,171.85 L206.60,171.85 L207.10,172.03 L207.60,171.86 L208.10,171.90 L208.60,171.92 L209.10,171.85 L209.60,172.44 L210.10,172.08 L210.60,172.09 L211.10,172.31 L211.60,171.73 L212.10,172.23 L212.60,172.27 L213.10,172.15 L213.60,172.40 L214.10,172.06 L214.60,172.39 L215.10,172.55 L215.60,172.12 L216.10,172.26 L216.60,172.48 L217.10,172.53 L217.60,172.47 L218.10,172.65 L218.60,172.66 L219.10,172.45 L219.60,172.67 L220.10,172.52 L220.60,172.43 L221.10,172.41 L221.60,172.96 L222.10,172.81 L222.60,173.16 L223.10,172.67 L223.60,172.87 L224.10,173.00 L224.60,172.96 L225.10,173.09 L225.60,173.07 L226.10,172.98 L226.60,172.73 L227.10,172.95 L227.60,173.36 L228.10,173.22 L228.60,173.32 L229.10,173.04 L229.60,173.11 L230.10,173.01 L230.60,173.21 L231.10,173.17 L231.60,173.24 L232.10,173.45 L232.60,173.07 L233.10,173.31 L233.60,173.00 L234.10,173.38 L234.60,173.16 L235.10,173.22 L235.60,173.26 L236.10,173.50 L236.60,173.26 L237.10,173.19 L237.60,173.10" fill="none" stroke="#38A038" stroke-width="1.1" stroke-linejoin="round" />
<text x="32.7" y="107.6" font-size="8.5" fill="#F38D3A" stroke="#F38D3A" stroke-width="0.28" text-anchor="middle" font-weight="normal" ><tspan font-family="NanumGothic, Liberation Sans, sans-serif" font-size="7.91" stroke="#F38D3A" stroke-width="0.5">1</tspan>44</text>
<text x="38.1" y="42.1" font-size="8.5" fill="#F38D3A" stroke="#F38D3A" stroke-width="0.28" text-anchor="middle" font-weight="normal" >202</text>
<text x="45.3" y="114.6" font-size="8.5" fill="#F38D3A" stroke="#F38D3A" stroke-width="0.28" text-anchor="middle" font-weight="normal" >254</text>
<text x="57.3" y="63.9" font-size="8.5" fill="#F38D3A" stroke="#F38D3A" stroke-width="0.28" text-anchor="middle" font-weight="normal" >373</text>
<text x="65.6" y="119.2" font-size="8.5" fill="#F38D3A" stroke="#F38D3A" stroke-width="0.28" text-anchor="middle" font-weight="normal" >43<tspan font-family="NanumGothic, Liberation Sans, sans-serif" font-size="7.91" stroke="#F38D3A" stroke-width="0.5">1</tspan></text>
<text x="79.6" y="107.8" font-size="8.5" fill="#F38D3A" stroke="#F38D3A" stroke-width="0.28" text-anchor="middle" font-weight="normal" >573</text>
<text x="93.9" y="31.9" font-size="8.5" fill="#F38D3A" stroke="#F38D3A" stroke-width="0.28" text-anchor="middle" font-weight="normal" >699</text>
<text x="125.8" y="107.8" font-size="8.5" fill="#F38D3A" stroke="#F38D3A" stroke-width="0.28" text-anchor="middle" font-weight="normal" >987</text>
<text x="126.3" y="116.6" font-size="8.5" fill="#F38D3A" stroke="#F38D3A" stroke-width="0.28" text-anchor="start" font-weight="normal" ><tspan font-family="NanumGothic, Liberation Sans, sans-serif" font-size="7.91" stroke="#F38D3A" stroke-width="0.5">1</tspan>038</text>
<text x="134.2" y="125.4" font-size="8.5" fill="#F38D3A" stroke="#F38D3A" stroke-width="0.28" text-anchor="start" font-weight="normal" ><tspan font-family="NanumGothic, Liberation Sans, sans-serif" font-size="7.91" stroke="#F38D3A" stroke-width="0.5">111</tspan>2 (Anl)</text>
<text x="176.8" y="124.2" font-size="8.5" fill="#F38D3A" stroke="#F38D3A" stroke-width="0.28" text-anchor="start" font-weight="normal" ><tspan font-family="NanumGothic, Liberation Sans, sans-serif" font-size="7.91" stroke="#F38D3A" stroke-width="0.5">1</tspan>606 (Anl)</text>
<text x="177.6" y="100.5" font-size="10.3" fill="#F38D3A" stroke="#F38D3A" stroke-width="0.28" text-anchor="start" font-weight="normal" textLength="90.6" lengthAdjust="spacing" >Jadeite in domains</text>
<text x="35.9" y="156.4" font-size="8.5" fill="#349A34" stroke="#349A34" stroke-width="0.28" text-anchor="middle" font-weight="normal" >200</text>
<text x="48.6" y="161.9" font-size="8.5" fill="#349A34" stroke="#349A34" stroke-width="0.28" text-anchor="middle" font-weight="normal" >287</text>
<text x="58.0" y="154.4" font-size="8.5" fill="#349A34" stroke="#349A34" stroke-width="0.28" text-anchor="middle" font-weight="normal" >37<tspan font-family="NanumGothic, Liberation Sans, sans-serif" font-size="7.91" stroke="#349A34" stroke-width="0.5">1</tspan></text>
<text x="73.3" y="156.4" font-size="8.5" fill="#349A34" stroke="#349A34" stroke-width="0.28" text-anchor="middle" font-weight="normal" >505</text>
<text x="94.6" y="150.3" font-size="8.5" fill="#349A34" stroke="#349A34" stroke-width="0.28" text-anchor="middle" font-weight="normal" >696</text>
<text x="118.3" y="159.1" font-size="8.5" fill="#349A34" stroke="#349A34" stroke-width="0.28" text-anchor="middle" font-weight="normal" >984</text>
<text x="126.8" y="155.5" font-size="8.5" fill="#349A34" stroke="#349A34" stroke-width="0.28" text-anchor="start" font-weight="normal" ><tspan font-family="NanumGothic, Liberation Sans, sans-serif" font-size="7.91" stroke="#349A34" stroke-width="0.5">1</tspan>035</text>
<text x="146.4" y="161.0" font-size="8.5" fill="#349A34" stroke="#349A34" stroke-width="0.28" text-anchor="start" font-weight="normal" ><tspan font-family="NanumGothic, Liberation Sans, sans-serif" font-size="7.91" stroke="#349A34" stroke-width="0.5">11</tspan>09 (Anl)</text>
<text x="185.2" y="164.9" font-size="8.5" fill="#349A34" stroke="#349A34" stroke-width="0.28" text-anchor="start" font-weight="normal" ><tspan font-family="NanumGothic, Liberation Sans, sans-serif" font-size="7.91" stroke="#349A34" stroke-width="0.5">1</tspan>606 (Anl)</text>
<text x="210.6" y="153.0" font-size="10.3" fill="#349A34" stroke="#349A34" stroke-width="0.28" text-anchor="start" font-weight="normal" textLength="57.6" lengthAdjust="spacing" >Host jadeite</text>
<line x1="120.5" y1="160.5" x2="126.3" y2="168.2" stroke="#38A038" stroke-width="0.7"/>
<line x1="134" y1="157.5" x2="129.6" y2="168.2" stroke="#38A038" stroke-width="0.7"/>
<line x1="146.6" y1="161.2" x2="139.4" y2="165.3" stroke="#38A038" stroke-width="0.7"/>
<text x="297.0" y="18.9" font-size="16.2" fill="#111" stroke="#111" stroke-width="0.35">b</text>
<line x1="312.5" y1="24.7" x2="312.5" y2="177.9" stroke="#3a3a3a" stroke-width="1.0"/>
<line x1="312.0" y1="177.4" x2="523.8" y2="177.4" stroke="#3a3a3a" stroke-width="1.0"/>
<line x1="311.80" y1="177.4" x2="311.80" y2="174.8" stroke="#3a3a3a" stroke-width="0.8"/>
<line x1="338.28" y1="177.4" x2="338.28" y2="174.8" stroke="#3a3a3a" stroke-width="0.8"/>
<line x1="364.75" y1="177.4" x2="364.75" y2="174.8" stroke="#3a3a3a" stroke-width="0.8"/>
<line x1="391.23" y1="177.4" x2="391.23" y2="174.8" stroke="#3a3a3a" stroke-width="0.8"/>
<line x1="417.70" y1="177.4" x2="417.70" y2="174.8" stroke="#3a3a3a" stroke-width="0.8"/>
<line x1="444.18" y1="177.4" x2="444.18" y2="174.8" stroke="#3a3a3a" stroke-width="0.8"/>
<line x1="470.65" y1="177.4" x2="470.65" y2="174.8" stroke="#3a3a3a" stroke-width="0.8"/>
<line x1="497.12" y1="177.4" x2="497.12" y2="174.8" stroke="#3a3a3a" stroke-width="0.8"/>
<line x1="523.60" y1="177.4" x2="523.60" y2="174.8" stroke="#3a3a3a" stroke-width="0.8"/>
<line x1="325.04" y1="177.4" x2="325.04" y2="176.0" stroke="#3a3a3a" stroke-width="0.8"/>
<line x1="351.51" y1="177.4" x2="351.51" y2="176.0" stroke="#3a3a3a" stroke-width="0.8"/>
<line x1="377.99" y1="177.4" x2="377.99" y2="176.0" stroke="#3a3a3a" stroke-width="0.8"/>
<line x1="404.46" y1="177.4" x2="404.46" y2="176.0" stroke="#3a3a3a" stroke-width="0.8"/>
<line x1="430.94" y1="177.4" x2="430.94" y2="176.0" stroke="#3a3a3a" stroke-width="0.8"/>
<line x1="457.41" y1="177.4" x2="457.41" y2="176.0" stroke="#3a3a3a" stroke-width="0.8"/>
<line x1="483.89" y1="177.4" x2="483.89" y2="176.0" stroke="#3a3a3a" stroke-width="0.8"/>
<line x1="510.36" y1="177.4" x2="510.36" y2="176.0" stroke="#3a3a3a" stroke-width="0.8"/>
<text x="311.80" y="187.4" font-size="7" fill="#333" text-anchor="middle">0</text>
<text x="338.28" y="187.4" font-size="7" fill="#333" text-anchor="middle">500</text>
<text x="364.75" y="187.4" font-size="7" fill="#333" text-anchor="middle"><tspan font-family="NanumGothic, Liberation Sans, sans-serif" font-size="6.51" stroke="#333" stroke-width="0.3">1</tspan>000</text>
<text x="391.23" y="187.4" font-size="7" fill="#333" text-anchor="middle"><tspan font-family="NanumGothic, Liberation Sans, sans-serif" font-size="6.51" stroke="#333" stroke-width="0.3">1</tspan>500</text>
<text x="417.70" y="187.4" font-size="7" fill="#333" text-anchor="middle">2000</text>
<text x="444.18" y="187.4" font-size="7" fill="#333" text-anchor="middle">2500</text>
<text x="470.65" y="187.4" font-size="7" fill="#333" text-anchor="middle">3000</text>
<text x="497.12" y="187.4" font-size="7" fill="#333" text-anchor="middle">3500</text>
<text x="523.60" y="187.4" font-size="7" fill="#333" text-anchor="middle">4000</text>
<text transform="translate(307.3,157.3) rotate(-90)" x="0" y="0" font-size="14.6" fill="#111" stroke="#111" stroke-width="0.3" textLength="113.9" lengthAdjust="spacingAndGlyphs">Raman Intensity</text>
<text x="360.7" y="203.2" font-size="15.0" fill="#111" stroke="#111" stroke-width="0.3" textLength="111.6" lengthAdjust="spacingAndGlyphs">Raman Shift (cm</text>
<text x="473.1" y="196.7" font-size="6" fill="#222">-<tspan font-family="NanumGothic, Liberation Sans, sans-serif" font-size="5.58" stroke="#222" stroke-width="0.25">1</tspan></text>
<text x="480.1" y="203.2" font-size="15.0" fill="#111" stroke="#111" stroke-width="0.3">)</text>
<path d="M317.40,59.79 L317.90,87.10 L318.40,107.13 L318.90,121.64 L319.40,132.21 L319.90,139.65 L320.40,145.08 L320.90,149.08 L321.40,152.25 L321.90,154.53 L322.20,156.50 L323.20,158.50 L324.40,160.00 L325.80,163.00 L326.80,160.00 L327.60,155.00 L328.30,152.60 L329.00,158.00 L329.60,162.00 L330.50,160.00 L331.40,153.00 L332.30,148.50 L333.20,147.00 L334.00,150.00 L334.60,156.00 L335.30,160.50 L336.20,157.00 L336.90,120.00 L337.40,27.50 L338.20,27.50 L338.80,120.00 L339.60,155.00 L340.80,160.00 L341.80,162.00 L342.60,163.00 L343.50,161.00 L344.60,158.00 L345.50,150.00 L346.20,144.00 L346.90,150.00 L347.60,155.00 L348.20,155.50 L349.00,159.00 L350.00,163.00 L352.00,162.00 L353.70,161.50 L354.60,150.00 L355.50,142.50 L356.50,150.00 L357.50,158.00 L359.00,160.00 L361.00,157.00 L362.50,159.50 L365.00,155.00 L367.00,153.00 L368.50,150.00 L369.80,135.00 L370.60,119.50 L371.40,135.00 L372.50,157.00 L373.50,155.00 L374.30,141.50 L374.90,148.00 L375.50,141.00 L376.20,157.00 L377.00,148.00 L377.50,144.50 L378.50,150.00 L379.50,153.00 L380.50,150.50 L382.00,155.00 L384.00,158.00 L386.50,158.50 L387.50,157.00 L388.80,152.00 L389.50,150.50 L390.30,155.00 L390.90,158.00 L392.00,160.00 L394.00,159.00 L395.50,155.00 L396.50,145.00 L397.20,132.20 L397.30,132.20 L397.40,132.98 L397.90,146.55 L398.40,154.98 L398.90,157.04 L399.40,157.88 L399.90,158.67 L400.40,159.04 L400.90,159.48 L401.40,160.26 L401.90,161.85 L402.40,162.73 L402.90,163.47 L403.40,164.77 L403.90,165.86 L404.40,166.04 L404.90,166.99 L405.40,167.68 L405.90,168.51 L406.40,169.06 L406.90,169.71 L407.40,170.41 L407.90,171.36 L408.40,171.55 L408.90,171.16 L409.40,171.11 L409.90,171.66 L410.40,171.12 L410.90,171.19 L411.40,171.29 L411.90,171.36 L412.40,171.46 L412.90,171.37 L413.40,171.19 L413.90,171.40 L414.40,171.37 L414.90,171.63 L415.40,171.35 L415.90,171.16 L416.40,171.21 L416.90,171.59 L417.40,171.30 L417.90,171.08 L418.40,171.31 L418.90,171.41 L419.40,171.59 L419.90,171.27 L420.40,171.53 L420.90,171.56 L421.40,171.34 L421.90,171.43 L422.40,171.73 L422.90,171.73 L423.40,171.61 L423.90,171.53 L424.40,171.66 L424.90,171.48 L425.40,171.49 L425.90,171.38 L426.40,171.52 L426.90,171.51 L427.40,171.95 L427.90,171.51 L428.40,171.74 L428.90,171.75 L429.40,171.53 L429.90,171.74 L430.40,171.25 L430.90,171.60 L431.40,171.72 L431.90,171.24 L432.40,171.43 L432.90,171.77 L433.40,171.58 L433.90,171.46 L434.40,171.57 L434.90,171.55 L435.40,171.75 L435.90,171.71 L436.40,171.61 L436.90,171.56 L437.40,171.66 L437.90,171.87 L438.40,171.73 L438.90,171.78 L439.40,171.66 L439.90,171.50 L440.40,171.49 L440.90,171.58 L441.40,171.38 L441.90,171.11 L442.40,170.88 L442.90,171.02 L443.40,170.84 L443.90,170.72 L444.40,170.60 L444.90,170.57 L445.40,170.45 L445.90,170.43 L446.40,170.31 L446.90,170.25 L447.40,170.05 L447.90,169.75 L448.40,169.67 L448.90,169.63 L449.40,169.39 L449.90,169.39 L450.40,169.35 L450.90,168.92 L451.40,168.64 L451.90,168.95 L452.40,168.64 L452.90,168.60 L453.40,168.15 L453.90,168.47 L454.40,168.17 L454.90,167.89 L455.40,167.70 L455.90,167.61 L456.40,167.41 L456.90,167.22 L457.40,166.91 L457.90,167.07 L458.40,166.67 L458.90,166.46 L459.40,166.21 L459.90,165.55 L460.40,165.63 L460.90,165.03 L461.40,164.48 L461.90,163.48 L462.40,161.27 L462.90,157.97 L463.40,152.58 L463.90,146.79 L464.40,143.02 L464.50,142.90 L464.90,143.75 L465.40,146.87 L465.90,148.31 L466.40,146.70 L466.90,143.47 L467.40,141.44 L467.40,141.60 L467.90,145.02 L468.40,149.32 L468.90,149.55 L469.40,147.38 L469.50,147.80 L469.90,153.18 L470.40,161.42 L470.90,165.46 L471.40,167.12 L471.90,167.88 L472.40,167.73 L472.90,167.26 L473.40,164.56 L473.90,153.11 L474.40,140.40 L474.40,140.50 L474.90,153.73 L475.40,165.58 L475.90,169.14 L476.40,169.62 L476.90,170.34 L477.40,171.23 L477.90,171.39 L478.40,171.43 L478.90,171.48 L479.40,171.71 L479.90,171.55 L480.40,171.50 L480.90,171.31 L481.40,171.48 L481.90,171.38 L482.40,171.38 L482.90,171.36 L483.40,171.23 L483.90,170.90 L484.40,170.79 L484.90,170.16 L485.40,170.03 L485.90,170.03 L486.40,169.44 L486.90,169.30 L487.40,168.96 L487.90,168.65 L488.40,168.21 L488.90,167.53 L489.40,167.31 L489.90,166.89 L490.40,166.48 L490.90,166.41 L491.40,166.00 L491.90,165.56 L492.40,165.35 L492.90,164.66 L493.40,163.71 L493.90,162.57 L494.40,161.23 L494.90,159.51 L495.40,157.40 L495.90,154.96 L496.40,152.08 L496.90,149.10 L497.40,145.87 L497.90,142.64 L498.40,139.59 L498.90,137.34 L499.40,136.19 L499.70,135.90 L499.90,135.97 L500.40,137.06 L500.90,138.77 L501.40,141.52 L501.90,145.12 L502.40,148.36 L502.90,151.65 L503.40,154.43 L503.90,156.90 L504.40,159.04 L504.90,160.62 L505.40,162.42 L505.90,163.34 L506.40,164.39 L506.90,165.02 L507.40,165.44 L507.90,165.79 L508.40,165.75 L508.90,165.87 L509.40,165.85 L509.90,165.94 L510.40,166.24 L510.90,165.91 L511.40,166.11 L511.90,166.00 L512.40,165.93 L512.90,165.87 L513.40,165.52 L513.90,165.65 L514.40,165.75 L514.90,165.31 L515.40,165.32 L515.90,165.12 L516.40,165.17 L516.90,164.86 L517.40,165.16 L517.90,164.76 L518.40,164.47 L518.90,164.86 L519.40,164.62 L519.90,164.44 L520.40,164.33 L520.90,164.08 L521.40,163.98 L521.90,164.01 L522.40,163.91 L522.90,163.80 L523.40,163.57" fill="none" stroke="#E062E6" stroke-width="1.1" stroke-linejoin="round" />
<text x="337.5" y="24.1" font-size="8.4" fill="#DC78E2" stroke="#DC78E2" stroke-width="0.28" text-anchor="middle" font-weight="normal" >484</text>
<text x="329.1" y="146.2" font-size="8.4" fill="#DC78E2" stroke="#DC78E2" stroke-width="0.28" text-anchor="middle" font-weight="normal" >38<tspan font-family="NanumGothic, Liberation Sans, sans-serif" font-size="7.81" stroke="#DC78E2" stroke-width="0.5">1</tspan></text>
<text x="346.5" y="142.6" font-size="8.4" fill="#DC78E2" stroke="#DC78E2" stroke-width="0.28" text-anchor="middle" font-weight="normal" >637</text>
<text x="361.4" y="140.8" font-size="8.4" fill="#DC78E2" stroke="#DC78E2" stroke-width="0.28" text-anchor="middle" font-weight="normal" >82<tspan font-family="NanumGothic, Liberation Sans, sans-serif" font-size="7.81" stroke="#DC78E2" stroke-width="0.5">1</tspan></text>
<text x="328.9" y="172.8" font-size="8.4" fill="#DC78E2" stroke="#DC78E2" stroke-width="0.28" text-anchor="middle" font-weight="normal" >299</text>
<text x="371.2" y="115.6" font-size="8.4" fill="#DC78E2" stroke="#DC78E2" stroke-width="0.28" text-anchor="middle" font-weight="normal" ><tspan font-family="NanumGothic, Liberation Sans, sans-serif" font-size="7.81" stroke="#DC78E2" stroke-width="0.5">111</tspan>0</text>
<text x="400.3" y="130.9" font-size="8.4" fill="#DC78E2" stroke="#DC78E2" stroke-width="0.28" text-anchor="middle" font-weight="normal" ><tspan font-family="NanumGothic, Liberation Sans, sans-serif" font-size="7.81" stroke="#DC78E2" stroke-width="0.5">1</tspan>606</text>
<text x="467.8" y="138.3" font-size="8.4" fill="#DC78E2" stroke="#DC78E2" stroke-width="0.28" text-anchor="middle" font-weight="normal" >(Gum)</text>
<text x="500.1" y="135.1" font-size="8.4" fill="#DC78E2" stroke="#DC78E2" stroke-width="0.28" text-anchor="middle" font-weight="normal" >3543</text>
<text x="371.4" y="133.1" font-size="8.4" fill="#DC78E2" stroke="#DC78E2" stroke-width="0.28" text-anchor="start" font-weight="normal" ><tspan font-family="NanumGothic, Liberation Sans, sans-serif" font-size="7.81" stroke="#DC78E2" stroke-width="0.5">11</tspan>84</text>
<text x="378.0" y="141.8" font-size="8.4" fill="#DC78E2" stroke="#DC78E2" stroke-width="0.28" text-anchor="start" font-weight="normal" ><tspan font-family="NanumGothic, Liberation Sans, sans-serif" font-size="7.81" stroke="#DC78E2" stroke-width="0.5">1</tspan>229</text>
<text x="366.6" y="170.3" font-size="8.4" fill="#DC78E2" stroke="#DC78E2" stroke-width="0.28" text-anchor="start" font-weight="normal" ><tspan font-family="NanumGothic, Liberation Sans, sans-serif" font-size="7.81" stroke="#DC78E2" stroke-width="0.5">1</tspan>295</text>
<text x="385.2" y="172.4" font-size="8.4" fill="#DC78E2" stroke="#DC78E2" stroke-width="0.28" text-anchor="start" font-weight="normal" ><tspan font-family="NanumGothic, Liberation Sans, sans-serif" font-size="7.81" stroke="#DC78E2" stroke-width="0.5">1</tspan>462</text>
<text x="486.6" y="111.5" font-size="10.3" fill="#DC78E2" stroke="#DC78E2" stroke-width="0.28" text-anchor="start" font-weight="normal" textLength="44.3" lengthAdjust="spacing" >Analcime</text>
<line x1="379.2" y1="134" x2="374.3" y2="139.5" stroke="#E062E6" stroke-width="0.7"/>
<line x1="384.3" y1="142.7" x2="378.2" y2="144.6" stroke="#E062E6" stroke-width="0.7"/>
<line x1="377.2" y1="163.1" x2="380.4" y2="157.7" stroke="#E062E6" stroke-width="0.7"/>
<line x1="389.7" y1="151.8" x2="391.6" y2="166.4" stroke="#E062E6" stroke-width="0.7"/>
<text x="8.0" y="231.2" font-size="16.5" fill="#111" stroke="#111" stroke-width="0.35">c</text>
<line x1="26.9" y1="230.0" x2="26.9" y2="400.0" stroke="#5e5e5e" stroke-width="1.4"/>
<line x1="26.2" y1="399.3" x2="235.6" y2="399.3" stroke="#5e5e5e" stroke-width="1.4"/>
<line x1="26.50" y1="399.3" x2="26.50" y2="396.7" stroke="#5e5e5e" stroke-width="0.8"/>
<line x1="49.74" y1="399.3" x2="49.74" y2="396.7" stroke="#5e5e5e" stroke-width="0.8"/>
<line x1="72.98" y1="399.3" x2="72.98" y2="396.7" stroke="#5e5e5e" stroke-width="0.8"/>
<line x1="96.22" y1="399.3" x2="96.22" y2="396.7" stroke="#5e5e5e" stroke-width="0.8"/>
<line x1="119.46" y1="399.3" x2="119.46" y2="396.7" stroke="#5e5e5e" stroke-width="0.8"/>
<line x1="142.70" y1="399.3" x2="142.70" y2="396.7" stroke="#5e5e5e" stroke-width="0.8"/>
<line x1="165.94" y1="399.3" x2="165.94" y2="396.7" stroke="#5e5e5e" stroke-width="0.8"/>
<line x1="189.18" y1="399.3" x2="189.18" y2="396.7" stroke="#5e5e5e" stroke-width="0.8"/>
<line x1="212.42" y1="399.3" x2="212.42" y2="396.7" stroke="#5e5e5e" stroke-width="0.8"/>
<line x1="235.66" y1="399.3" x2="235.66" y2="396.7" stroke="#5e5e5e" stroke-width="0.8"/>
<line x1="38.12" y1="399.3" x2="38.12" y2="397.90000000000003" stroke="#5e5e5e" stroke-width="0.8"/>
<line x1="61.36" y1="399.3" x2="61.36" y2="397.90000000000003" stroke="#5e5e5e" stroke-width="0.8"/>
<line x1="84.60" y1="399.3" x2="84.60" y2="397.90000000000003" stroke="#5e5e5e" stroke-width="0.8"/>
<line x1="107.84" y1="399.3" x2="107.84" y2="397.90000000000003" stroke="#5e5e5e" stroke-width="0.8"/>
<line x1="131.08" y1="399.3" x2="131.08" y2="397.90000000000003" stroke="#5e5e5e" stroke-width="0.8"/>
<line x1="154.32" y1="399.3" x2="154.32" y2="397.90000000000003" stroke="#5e5e5e" stroke-width="0.8"/>
<line x1="177.56" y1="399.3" x2="177.56" y2="397.90000000000003" stroke="#5e5e5e" stroke-width="0.8"/>
<line x1="200.80" y1="399.3" x2="200.80" y2="397.90000000000003" stroke="#5e5e5e" stroke-width="0.8"/>
<line x1="224.04" y1="399.3" x2="224.04" y2="397.90000000000003" stroke="#5e5e5e" stroke-width="0.8"/>
<text x="26.50" y="408.6" font-size="7" fill="#333" text-anchor="middle">200</text>
<text x="49.74" y="408.6" font-size="7" fill="#333" text-anchor="middle">400</text>
<text x="72.98" y="408.6" font-size="7" fill="#333" text-anchor="middle">600</text>
<text x="96.22" y="408.6" font-size="7" fill="#333" text-anchor="middle">800</text>
<text x="119.46" y="408.6" font-size="7" fill="#333" text-anchor="middle"><tspan font-family="NanumGothic, Liberation Sans, sans-serif" font-size="6.51" stroke="#333" stroke-width="0.3">1</tspan>000</text>
<text x="142.70" y="408.6" font-size="7" fill="#333" text-anchor="middle"><tspan font-family="NanumGothic, Liberation Sans, sans-serif" font-size="6.51" stroke="#333" stroke-width="0.3">1</tspan>200</text>
<text x="165.94" y="408.6" font-size="7" fill="#333" text-anchor="middle"><tspan font-family="NanumGothic, Liberation Sans, sans-serif" font-size="6.51" stroke="#333" stroke-width="0.3">1</tspan>400</text>
<text x="189.18" y="408.6" font-size="7" fill="#333" text-anchor="middle"><tspan font-family="NanumGothic, Liberation Sans, sans-serif" font-size="6.51" stroke="#333" stroke-width="0.3">1</tspan>600</text>
<text x="212.42" y="408.6" font-size="7" fill="#333" text-anchor="middle"><tspan font-family="NanumGothic, Liberation Sans, sans-serif" font-size="6.51" stroke="#333" stroke-width="0.3">1</tspan>800</text>
<text x="235.66" y="408.6" font-size="7" fill="#333" text-anchor="middle">2000</text>
<text transform="translate(18.5,377.3) rotate(-90)" x="0" y="0" font-size="14.6" fill="#111" stroke="#111" stroke-width="0.3" textLength="114.9" lengthAdjust="spacingAndGlyphs">Raman Intensity</text>
<text x="75.5" y="423.3" font-size="15.0" fill="#111" stroke="#111" stroke-width="0.3" textLength="111.6" lengthAdjust="spacingAndGlyphs">Raman Shift (cm</text>
<text x="187.9" y="416.8" font-size="6" fill="#222">-<tspan font-family="NanumGothic, Liberation Sans, sans-serif" font-size="5.58" stroke="#222" stroke-width="0.25">1</tspan></text>
<text x="194.9" y="423.3" font-size="15.0" fill="#111" stroke="#111" stroke-width="0.3">)</text>
<path d="M27.00,376.00 L28.50,375.50 L30.00,374.50 L31.50,377.00 L33.30,383.00 L34.30,385.00 L35.30,378.00 L36.00,382.00 L37.00,385.50 L38.00,376.00 L38.60,367.00 L39.30,372.00 L40.00,370.00 L41.00,362.00 L42.00,355.00 L43.30,351.00 L44.50,354.00 L46.00,350.00 L47.30,343.50 L48.30,350.00 L49.50,352.00 L50.30,355.00 L51.50,362.00 L53.00,372.00 L54.30,380.00 L55.20,381.50 L56.50,375.00 L57.50,360.00 L58.20,330.00 L59.00,270.00 L59.60,244.10 L60.30,275.00 L61.00,325.00 L62.00,355.00 L63.00,362.00 L63.80,365.00 L64.50,372.00 L65.50,378.00 L67.00,381.00 L68.50,380.00 L70.00,378.50 L71.50,381.00 L72.50,383.00 L74.00,381.00 L75.00,382.00 L76.00,378.00 L77.50,376.00 L78.50,374.50 L79.00,379.00 L80.00,375.00 L81.00,360.00 L81.80,300.00 L82.50,246.30 L83.20,300.00 L84.00,352.00 L85.00,372.00 L85.50,377.00 L86.50,380.00 L88.00,381.00 L89.50,383.00 L91.00,384.00 L93.00,385.50 L95.00,385.00 L96.50,380.00 L97.50,376.00 L98.40,373.50 L99.20,372.50 L100.50,376.00 L101.50,378.50 L103.00,379.50 L104.50,378.00 L106.00,379.50 L107.50,378.00 L108.50,376.50 L109.50,378.50 L111.00,379.00 L113.00,379.00 L115.00,379.00 L116.50,376.00 L117.30,372.00 L118.00,365.00 L119.00,353.00 L120.30,340.00 L121.50,335.50 L122.50,341.00 L123.50,352.00 L124.50,360.00 L126.00,365.50 L127.50,367.00 L129.00,364.00 L130.50,357.00 L131.80,348.00 L132.70,346.50 L133.50,352.00 L134.50,362.00 L135.50,370.00 L137.00,373.00 L138.50,377.00 L140.00,374.00 L141.00,371.00 L142.50,376.00 L144.00,371.00 L145.50,373.00 L146.50,369.50 L148.00,371.00 L150.00,370.00 L151.00,372.39 L152.60,369.99 L154.20,372.37 L155.80,369.29 L157.40,370.58 L159.00,370.13 L160.60,371.91 L162.20,372.69 L163.80,373.55 L165.40,372.32 L167.00,374.56 L168.60,373.03 L170.20,374.49 L171.80,371.14 L173.20,368.24 L174.20,369.50 L175.80,372.01 L177.40,373.37 L179.00,373.51 L180.60,373.52 L182.20,374.91 L183.80,373.70 L185.40,373.87 L187.00,370.97 L188.60,371.61 L190.20,355.81 L191.00,365.30 L192.60,370.74 L194.20,372.58 L195.80,371.39 L197.40,371.00 L199.00,371.22 L200.60,372.27 L202.20,371.91 L203.00,368.97 L204.60,373.33 L206.20,375.76 L207.80,373.66 L209.40,379.00 L211.00,378.66 L212.60,380.79 L214.20,381.67 L215.80,383.07 L217.40,384.12 L219.00,385.90 L220.60,387.05 L222.20,389.31 L223.80,390.63 L225.40,390.57 L227.00,386.50 L228.60,389.40 L230.20,388.24 L231.80,388.68 L233.40,387.08 L235.00,389.81" fill="none" stroke="#2E9C9A" stroke-width="1.0" stroke-linejoin="round" />
<text x="48.6" y="340.9" font-size="8.5" fill="#2A9696" stroke="#2A9696" stroke-width="0.28" text-anchor="middle" font-weight="normal" >374</text>
<text x="38.3" y="349.7" font-size="8.5" fill="#2A9696" stroke="#2A9696" stroke-width="0.28" text-anchor="middle" font-weight="normal" >339</text>
<text x="35.4" y="365.7" font-size="8.5" fill="#2A9696" stroke="#2A9696" stroke-width="0.28" text-anchor="middle" font-weight="normal" >30<tspan font-family="NanumGothic, Liberation Sans, sans-serif" font-size="7.91" stroke="#2A9696" stroke-width="0.5">1</tspan></text>
<text x="37.1" y="394.3" font-size="8.5" fill="#2A9696" stroke="#2A9696" stroke-width="0.28" text-anchor="middle" font-weight="normal" >272</text>
<text x="99.0" y="369.7" font-size="8.5" fill="#2A9696" stroke="#2A9696" stroke-width="0.28" text-anchor="middle" font-weight="normal" >823</text>
<text x="120.9" y="333.9" font-size="8.5" fill="#2A9696" stroke="#2A9696" stroke-width="0.28" text-anchor="middle" font-weight="normal" ><tspan font-family="NanumGothic, Liberation Sans, sans-serif" font-size="7.91" stroke="#2A9696" stroke-width="0.5">1</tspan>0<tspan font-family="NanumGothic, Liberation Sans, sans-serif" font-size="7.91" stroke="#2A9696" stroke-width="0.5">1</tspan>5</text>
<text x="42.8" y="241.4" font-size="8.5" fill="#2A9696" stroke="#2A9696" stroke-width="0.28" text-anchor="start" font-weight="normal" >484 (Anl)</text>
<text x="79.4" y="244.9" font-size="8.5" fill="#2A9696" stroke="#2A9696" stroke-width="0.28" text-anchor="start" font-weight="normal" >682</text>
<text x="124.4" y="345.8" font-size="8.5" fill="#2A9696" stroke="#2A9696" stroke-width="0.28" text-anchor="start" font-weight="normal" ><tspan font-family="NanumGothic, Liberation Sans, sans-serif" font-size="7.91" stroke="#2A9696" stroke-width="0.5">111</tspan>0 (Anl)</text>
<text x="174.1" y="355.0" font-size="8.5" fill="#2A9696" stroke="#2A9696" stroke-width="0.28" text-anchor="start" font-weight="normal" ><tspan font-family="NanumGothic, Liberation Sans, sans-serif" font-size="7.91" stroke="#2A9696" stroke-width="0.5">1</tspan>606 (Anl)</text>
<text x="189.6" y="325.9" font-size="10.2" fill="#2A9696" stroke="#2A9696" stroke-width="0.28" text-anchor="start" font-weight="normal" textLength="52.6" lengthAdjust="spacing" >Omphacite</text>
<text x="297.0" y="232.2" font-size="16.2" fill="#111" stroke="#111" stroke-width="0.35">d</text>
<line x1="312.5" y1="235.4" x2="312.5" y2="400.1" stroke="#555555" stroke-width="1.2"/>
<line x1="311.9" y1="399.5" x2="534.9" y2="399.5" stroke="#555555" stroke-width="1.2"/>
<line x1="327.70" y1="399.5" x2="327.70" y2="396.9" stroke="#555555" stroke-width="0.8"/>
<line x1="357.30" y1="399.5" x2="357.30" y2="396.9" stroke="#555555" stroke-width="0.8"/>
<line x1="386.90" y1="399.5" x2="386.90" y2="396.9" stroke="#555555" stroke-width="0.8"/>
<line x1="416.50" y1="399.5" x2="416.50" y2="396.9" stroke="#555555" stroke-width="0.8"/>
<line x1="446.10" y1="399.5" x2="446.10" y2="396.9" stroke="#555555" stroke-width="0.8"/>
<line x1="475.70" y1="399.5" x2="475.70" y2="396.9" stroke="#555555" stroke-width="0.8"/>
<line x1="505.30" y1="399.5" x2="505.30" y2="396.9" stroke="#555555" stroke-width="0.8"/>
<line x1="534.90" y1="399.5" x2="534.90" y2="396.9" stroke="#555555" stroke-width="0.8"/>
<line x1="342.50" y1="399.5" x2="342.50" y2="398.1" stroke="#555555" stroke-width="0.8"/>
<line x1="372.10" y1="399.5" x2="372.10" y2="398.1" stroke="#555555" stroke-width="0.8"/>
<line x1="401.70" y1="399.5" x2="401.70" y2="398.1" stroke="#555555" stroke-width="0.8"/>
<line x1="431.30" y1="399.5" x2="431.30" y2="398.1" stroke="#555555" stroke-width="0.8"/>
<line x1="460.90" y1="399.5" x2="460.90" y2="398.1" stroke="#555555" stroke-width="0.8"/>
<line x1="490.50" y1="399.5" x2="490.50" y2="398.1" stroke="#555555" stroke-width="0.8"/>
<line x1="520.10" y1="399.5" x2="520.10" y2="398.1" stroke="#555555" stroke-width="0.8"/>
<text x="327.70" y="409.0" font-size="7" fill="#333" text-anchor="middle">2600</text>
<text x="357.30" y="409.0" font-size="7" fill="#333" text-anchor="middle">2800</text>
<text x="386.90" y="409.0" font-size="7" fill="#333" text-anchor="middle">3000</text>
<text x="416.50" y="409.0" font-size="7" fill="#333" text-anchor="middle">3200</text>
<text x="446.10" y="409.0" font-size="7" fill="#333" text-anchor="middle">3400</text>
<text x="475.70" y="409.0" font-size="7" fill="#333" text-anchor="middle">3600</text>
<text x="505.30" y="409.0" font-size="7" fill="#333" text-anchor="middle">3800</text>
<text x="534.90" y="409.0" font-size="7" fill="#333" text-anchor="middle">4000</text>
<text transform="translate(307.3,373.9) rotate(-90)" x="0" y="0" font-size="14.6" fill="#111" stroke="#111" stroke-width="0.3" textLength="110.4" lengthAdjust="spacingAndGlyphs">Raman Intensity</text>
<text x="360.7" y="426.2" font-size="15.0" fill="#111" stroke="#111" stroke-width="0.3" textLength="111.6" lengthAdjust="spacingAndGlyphs">Raman Shift (cm</text>
<text x="473.1" y="419.7" font-size="6" fill="#222">-<tspan font-family="NanumGothic, Liberation Sans, sans-serif" font-size="5.58" stroke="#222" stroke-width="0.25">1</tspan></text>
<text x="480.1" y="426.2" font-size="15.0" fill="#111" stroke="#111" stroke-width="0.3">)</text>
<line x1="373.8" y1="246.5" x2="373.8" y2="399" stroke="#7088A8" stroke-width="1.1" stroke-dasharray="2.8,3.2"/>
<path d="M313.00,334.30 L313.95,333.47 L314.90,337.33 L315.85,337.27 L316.80,341.08 L317.75,339.15 L318.70,342.54 L319.65,340.01 L320.60,342.89 L321.55,340.96 L322.50,343.87 L323.45,341.17 L324.40,343.65 L325.35,342.00 L326.30,342.88 L327.25,340.18 L328.20,343.15 L329.15,341.32 L330.10,343.59 L331.05,341.82 L332.00,344.65 L332.95,343.20 L333.90,344.41 L334.85,343.30 L335.80,346.22 L336.75,344.34 L337.70,346.89 L338.65,343.68 L339.60,344.76 L340.55,342.97 L341.50,344.08 L342.45,341.16 L343.40,343.34 L344.35,341.57 L345.30,343.27 L346.25,341.31 L347.20,342.48 L348.15,339.41 L349.10,341.69 L350.05,338.24 L351.00,340.46 L351.95,337.47 L352.90,338.93 L353.85,336.97 L354.80,338.20 L355.75,336.21 L356.70,337.08 L357.65,334.49 L358.60,335.76 L359.55,332.57 L360.50,332.69 L361.45,329.68 L362.40,329.68 L363.20,328.40 L363.35,328.55 L364.30,323.19 L365.25,321.52 L366.20,318.49 L367.15,319.39 L368.10,317.20 L369.05,319.48 L370.00,317.29 L370.95,319.91 L371.90,316.21 L372.85,317.87 L373.70,272.80 L373.80,279.92 L374.75,314.40 L375.70,317.45 L376.65,314.33 L377.60,316.48 L378.55,314.81 L379.50,317.06 L380.45,314.55 L381.40,318.14 L382.35,316.22 L383.30,319.06 L384.25,317.57 L385.20,321.55 L386.15,321.53 L387.10,323.67 L388.05,322.13 L389.00,322.26 L389.95,319.59 L390.90,320.61 L391.85,317.76 L392.80,319.89 L393.75,318.00 L394.70,317.75 L395.65,309.36 L396.60,304.28 L396.80,301.43 L397.55,308.01 L398.50,312.30 L399.45,317.96 L400.40,315.61 L401.35,316.93 L402.30,314.69 L403.25,315.39 L404.20,312.31 L405.15,314.25 L406.10,310.13 L407.05,311.99 L408.00,307.82 L408.95,309.69 L409.90,305.92 L410.85,306.71 L411.80,303.39 L412.75,305.51 L413.70,303.95 L414.65,305.21 L415.60,300.78 L416.55,301.15 L417.50,297.98 L418.45,298.83 L419.40,295.11 L420.35,295.27 L421.30,293.39 L422.25,294.87 L423.20,292.69 L424.15,293.77 L425.10,291.19 L426.05,293.39 L427.00,291.01 L427.95,292.33 L428.90,289.15 L429.85,289.88 L430.80,286.85 L431.75,288.34 L432.70,285.63 L433.65,286.96 L434.60,284.68 L435.55,286.45 L436.50,283.05 L437.45,284.29 L438.40,281.11 L439.35,282.10 L440.30,278.75 L441.25,279.44 L442.20,277.11 L443.15,276.89 L444.10,274.19 L445.05,274.78 L446.00,272.24 L446.95,273.43 L447.90,271.05 L448.85,272.86 L449.80,269.99 L450.75,271.97 L451.70,269.21 L452.65,272.22 L453.60,268.48 L454.55,269.33 L455.50,266.30 L456.45,267.49 L457.40,262.86 L458.35,265.73 L459.30,262.80 L460.25,266.10 L461.20,264.19 L462.15,267.82 L463.10,265.26 L464.05,269.23 L465.00,268.68 L465.95,270.47 L466.90,269.53 L467.85,271.99 L468.80,270.06 L469.75,273.35 L470.70,271.97 L471.65,276.13 L472.60,273.63 L473.55,275.80 L474.50,275.43 L475.45,278.06 L476.40,276.88 L477.35,279.52 L478.30,277.51 L479.25,278.93 L480.20,277.85 L481.15,280.49 L482.10,279.86 L483.05,282.61 L484.00,279.87 L484.95,283.07 L485.90,281.84 L486.85,283.77 L487.80,282.78 L488.75,285.70 L489.70,283.91 L490.65,287.88 L491.60,285.16 L492.55,288.95 L493.50,289.33 L494.45,286.44 L495.40,284.37 L496.35,286.29 L497.30,282.86 L498.25,283.78 L499.20,281.18 L500.15,284.78 L501.10,281.96 L502.05,284.35 L503.00,280.86 L503.95,281.03 L504.90,278.40 L505.85,278.93 L506.80,276.43 L507.75,277.31 L508.70,275.07 L509.65,276.93 L510.60,274.51 L511.55,276.40 L512.50,273.30 L513.45,273.90 L514.40,271.10 L515.35,272.46 L516.30,269.21 L517.25,270.28 L518.20,267.47 L519.15,267.58 L520.10,265.80 L521.05,267.31 L522.00,262.84 L522.95,264.88 L523.90,261.87 L524.85,261.91 L525.80,259.37 L526.75,261.12 L527.70,258.40 L528.65,260.68 L529.60,258.39 L530.55,259.32 L531.50,256.24 L532.45,257.24 L533.40,255.30 L534.35,256.79" fill="none" stroke="#8DB2E0" stroke-width="0.75" stroke-linejoin="round" />
<path d="M313.00,383.32 L313.60,383.72 L314.20,383.08 L314.80,383.92 L315.40,384.12 L316.00,383.60 L316.60,383.94 L317.20,383.91 L317.80,383.71 L318.40,383.58 L319.00,383.20 L319.60,384.44 L320.20,383.96 L320.80,384.89 L321.40,384.32 L322.00,384.16 L322.60,383.87 L323.20,384.62 L323.80,383.98 L324.40,384.74 L325.00,384.08 L325.60,384.32 L326.20,383.75 L326.80,385.14 L327.40,384.31 L328.00,384.24 L328.60,384.69 L329.20,384.13 L329.80,384.74 L330.40,384.09 L331.00,384.72 L331.60,384.20 L332.20,383.95 L332.80,384.42 L333.40,384.14 L334.00,384.88 L334.60,384.73 L335.20,384.93 L335.80,384.81 L336.40,384.69 L337.00,384.85 L337.60,385.24 L338.20,384.84 L338.80,384.67 L339.40,384.63 L340.00,384.92 L340.60,384.76 L341.20,385.71 L341.80,384.67 L342.40,384.73 L343.00,385.02 L343.60,385.39 L344.20,385.09 L344.80,384.88 L345.40,384.95 L346.00,385.14 L346.60,385.63 L347.20,384.97 L347.80,385.31 L348.40,385.15 L349.00,385.51 L349.60,385.56 L350.20,384.94 L350.80,386.31 L351.40,385.57 L352.00,385.35 L352.60,385.24 L353.20,385.49 L353.80,385.62 L354.40,385.84 L355.00,385.66 L355.60,385.86 L356.20,385.15 L356.80,385.48 L357.40,385.41 L358.00,385.85 L358.60,385.98 L359.20,385.33 L359.80,385.81 L360.40,386.15 L361.00,386.24 L361.60,385.56 L362.20,386.17 L362.80,386.12 L363.40,385.87 L364.00,386.74 L364.60,385.69 L365.20,386.01 L365.80,386.29 L366.40,386.24 L367.00,386.12 L367.60,386.68 L368.20,386.73 L368.80,386.57 L369.40,386.62 L370.00,386.26 L370.60,385.89 L371.20,387.06 L371.80,385.94 L372.40,386.97 L373.00,385.86 L373.60,383.74 L374.10,354.50 L374.20,359.26 L374.80,385.56 L375.40,385.99 L376.00,387.05 L376.60,386.70 L377.20,386.64 L377.80,386.43 L378.40,386.77 L379.00,386.71 L379.60,387.41 L380.20,387.10 L380.80,386.26 L381.40,387.37 L382.00,386.04 L382.60,387.44 L383.20,386.27 L383.80,386.96 L384.40,387.27 L385.00,387.02 L385.60,386.66 L386.20,387.51 L386.80,386.48 L387.40,386.62 L388.00,387.65 L388.60,386.89 L389.20,387.31 L389.80,387.53 L390.40,387.24 L391.00,387.40 L391.60,387.38 L392.20,387.44 L392.80,387.81 L393.40,387.75 L394.00,387.56 L394.60,387.80 L395.20,387.28 L395.80,387.13 L396.40,386.97 L397.00,387.52 L397.60,387.74 L398.20,387.12 L398.80,386.33 L399.40,386.76 L400.00,387.03 L400.60,386.89 L401.20,386.75 L401.80,386.98 L402.40,386.89 L403.00,386.02 L403.60,386.56 L404.20,386.08 L404.80,386.34 L405.40,386.62 L406.00,386.75 L406.60,386.28 L407.20,385.78 L407.80,385.76 L408.40,385.99 L409.00,385.38 L409.60,385.63 L410.20,385.79 L410.80,385.82 L411.40,385.31 L412.00,385.47 L412.60,385.74 L413.20,385.29 L413.80,384.50 L414.40,385.10 L415.00,385.04 L415.60,384.72 L416.20,384.81 L416.80,384.20 L417.40,385.07 L418.00,384.71 L418.60,384.29 L419.20,384.49 L419.80,384.37 L420.40,383.95 L421.00,383.24 L421.60,383.10 L422.20,384.72 L422.80,383.54 L423.40,383.75 L424.00,383.98 L424.60,383.58 L425.20,384.04 L425.80,383.21 L426.40,383.66 L427.00,382.66 L427.60,383.56 L428.20,383.47 L428.80,383.28 L429.40,383.18 L430.00,383.09 L430.60,383.25 L431.20,383.24 L431.80,382.52 L432.40,383.17 L433.00,382.42 L433.60,382.76 L434.20,382.56 L434.80,382.77 L435.40,382.43 L436.00,382.64 L436.60,382.28 L437.20,382.06 L437.80,382.72 L438.40,382.50 L439.00,382.43 L439.60,382.53 L440.20,381.78 L440.80,382.42 L441.40,381.68 L442.00,382.13 L442.60,381.89 L443.20,381.99 L443.80,382.09 L444.40,381.81 L445.00,381.43 L445.60,382.03 L446.20,382.06 L446.80,381.84 L447.40,381.91 L448.00,380.88 L448.60,381.61 L449.20,381.64 L449.80,381.08 L450.40,381.89 L451.00,381.94 L451.60,381.50 L452.20,381.82 L452.80,382.24 L453.40,382.50 L454.00,382.63 L454.60,382.08 L455.20,382.18 L455.80,382.47 L456.40,382.72 L457.00,382.62 L457.60,382.84 L458.20,383.25 L458.80,383.33 L459.40,383.22 L460.00,382.87 L460.60,383.18 L461.20,383.64 L461.80,383.83 L462.40,383.99 L463.00,383.33 L463.60,383.63 L464.20,383.46 L464.80,382.94 L465.40,383.72 L466.00,383.65 L466.60,384.91 L467.20,384.75 L467.80,384.52 L468.40,384.93 L469.00,385.21 L469.60,385.84 L470.20,385.66 L470.80,386.08 L471.40,385.88 L472.00,386.32 L472.60,386.53 L473.20,386.51 L473.80,386.36 L474.40,386.89 L475.00,386.53 L475.60,387.33 L476.20,386.89 L476.80,386.91 L477.40,387.97 L478.00,387.33 L478.60,387.69 L479.20,387.42 L479.80,387.70 L480.40,387.93 L481.00,387.78 L481.60,388.63 L482.20,388.02 L482.80,387.91 L483.40,388.82 L484.00,388.75 L484.60,387.76 L485.20,388.45 L485.80,389.08 L486.40,388.53 L487.00,388.78 L487.60,388.87 L488.20,388.24 L488.80,388.79 L489.40,389.45 L490.00,389.76 L490.60,389.30 L491.20,389.37 L491.80,389.67 L492.40,389.61 L493.00,389.81 L493.60,389.40 L494.20,389.79 L494.80,390.03 L495.40,390.14 L496.00,389.46 L496.60,390.37 L497.20,390.20 L497.80,390.29 L498.40,389.69 L499.00,390.40 L499.60,389.90 L500.20,389.61 L500.80,390.50 L501.40,390.44 L502.00,390.43 L502.60,390.44 L503.20,390.35 L503.80,390.70 L504.40,390.57 L505.00,390.83 L505.60,391.12 L506.20,390.47 L506.80,390.45 L507.40,390.81 L508.00,389.81 L508.60,389.97 L509.20,390.15 L509.80,389.48 L510.40,390.33 L511.00,390.52 L511.60,389.49 L512.20,389.62 L512.80,390.19 L513.40,390.32 L514.00,389.23 L514.60,389.97 L515.20,389.68 L515.80,389.07 L516.40,389.54 L517.00,389.46 L517.60,389.66 L518.20,389.61 L518.80,389.47 L519.40,389.49 L520.00,389.45 L520.60,389.62 L521.20,389.72 L521.80,389.65 L522.40,388.94 L523.00,388.92 L523.60,388.90 L524.20,389.57 L524.80,389.17 L525.40,388.68 L526.00,388.48 L526.60,388.47 L527.20,388.77 L527.80,388.31 L528.40,388.63 L529.00,389.05 L529.60,388.42 L530.20,388.75 L530.80,387.86 L531.40,388.45 L532.00,388.37 L532.60,387.88 L533.20,388.63 L533.80,388.08 L534.40,387.78" fill="none" stroke="#B9E65A" stroke-width="1.0" stroke-linejoin="round" />
<text x="378.0" y="247.6" font-size="8.5" fill="#3C5F8F" stroke="#3C5F8F" stroke-width="0.15" text-anchor="start" font-weight="normal" >CH<tspan font-size="5.5" dy="2.4">4</tspan></text>
<text x="378.4" y="277.5" font-size="8.4" fill="#86AADA" stroke="#86AADA" stroke-width="0.05" text-anchor="start" font-weight="normal" textLength="18.3" lengthAdjust="spacing" >29<tspan font-family="NanumGothic, Liberation Sans, sans-serif" font-size="7.81" stroke="#86AADA" stroke-width="0.27">1</tspan>6</text>
<text x="378.4" y="361.0" font-size="8.4" fill="#B2E456" stroke="#B2E456" stroke-width="0.1" text-anchor="start" font-weight="normal" textLength="18.8" lengthAdjust="spacing" >29<tspan font-family="NanumGothic, Liberation Sans, sans-serif" font-size="7.81" stroke="#B2E456" stroke-width="0.32">1</tspan>3</text>
<text x="467.0" y="255.6" font-size="8.8" fill="#3A4A66" stroke="#3A4A66" stroke-width="0.1" text-anchor="start" font-weight="normal" >H<tspan font-size="5.5" dy="1.8">2</tspan><tspan dy="-1.8">O</tspan></text>
<line x1="464.6" y1="253.3" x2="459.6" y2="261.2" stroke="#3A4A66" stroke-width="0.6"/>
<path d="M458.4,263.0 L458.9,259.8 L460.9,261.0 Z" fill="#1E2A40"/>
</svg>
</body></html>
